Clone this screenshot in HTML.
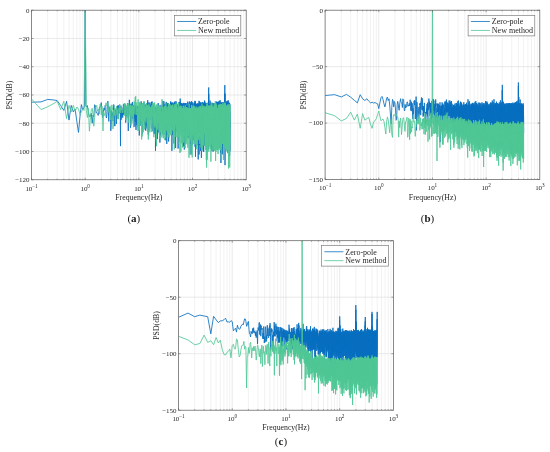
<!DOCTYPE html>
<html lang="en">
<head>
<meta charset="utf-8">
<title>PSD comparison: Zero-pole vs New method</title>
<style>
html,body{margin:0;padding:0;background:#fff;}
body{width:550px;height:452px;overflow:hidden;}
svg{display:block;}
text{font-family:"Liberation Serif", "DejaVu Serif", serif;fill:#262626;}
.tk{font-size:7px;letter-spacing:-0.1px;}
.lb{font-size:7.8px;}
.lg{font-size:8px;}
.cap{font-size:11px;fill:#1a1a1a;}
</style>
</head>
<body>
<svg width="550" height="452" viewBox="0 0 550 452">
<rect width="550" height="452" fill="#ffffff"/>
<clipPath id="c1"><rect x="31.50" y="10.20" width="214.70" height="169.55"/></clipPath>
<path d="M47.66 10.20V179.75M57.11 10.20V179.75M63.82 10.20V179.75M69.02 10.20V179.75M73.27 10.20V179.75M76.86 10.20V179.75M79.97 10.20V179.75M82.72 10.20V179.75M101.33 10.20V179.75M110.78 10.20V179.75M117.49 10.20V179.75M122.69 10.20V179.75M126.94 10.20V179.75M130.54 10.20V179.75M133.65 10.20V179.75M136.39 10.20V179.75M155.01 10.20V179.75M164.46 10.20V179.75M171.17 10.20V179.75M176.37 10.20V179.75M180.62 10.20V179.75M184.21 10.20V179.75M187.32 10.20V179.75M190.07 10.20V179.75M208.68 10.20V179.75M218.13 10.20V179.75M224.84 10.20V179.75M230.04 10.20V179.75M234.29 10.20V179.75M237.89 10.20V179.75M241.00 10.20V179.75M243.74 10.20V179.75" stroke="#e7e7e7" stroke-width="0.55" fill="none"/>
<path d="M85.17 10.20V179.75M138.85 10.20V179.75M192.52 10.20V179.75M31.50 38.46H246.20M31.50 66.72H246.20M31.50 94.98H246.20M31.50 123.23H246.20M31.50 151.49H246.20" stroke="#dcdcdc" stroke-width="0.6" fill="none"/>
<polyline clip-path="url(#c1)" fill="none" stroke="#0a70c0" stroke-width="0.85" stroke-linejoin="round" points="31.5,102.2 41.0,101.9 47.7,99.4 52.9,99.9 57.1,100.5 60.7,105.6 63.8,110.4 66.6,101.3 69.0,120.1 71.2,105.4 73.3,111.9 75.1,109.1 76.9,121.8 78.5,132.4 80.0,116.2 81.4,104.6 82.7,109.8 84.0,107.7 84.5,104.9 85.2,6.0 85.8,104.9 86.3,107.0 87.4,105.6 88.4,112.5 89.4,116.4 90.4,116.3 91.3,113.4 92.2,123.3 93.0,115.2 93.8,116.8 94.6,104.7 95.4,105.8 96.1,112.5 96.8,112.3 97.5,114.3 98.2,115.4 98.9,111.9 99.5,107.2 100.1,107.3 100.7,104.7 101.3,102.6 101.9,110.5 102.5,117.6 103.0,116.0 103.6,109.6 104.1,107.9 104.6,110.3 105.1,105.4 105.6,107.2 106.1,116.9 106.5,118.0 107.0,114.0 107.4,102.9 107.9,101.1 108.3,107.4 108.8,121.4 109.2,107.0 109.6,111.2 110.0,108.5 110.4,113.5 110.8,130.8 111.2,124.9 111.5,110.5 111.9,116.5 112.3,112.6 112.7,114.3 113.0,121.1 113.4,111.9 113.7,104.5 114.0,104.9 114.4,126.1 114.7,115.1 115.0,117.9 115.4,114.8 115.7,109.5 116.0,113.3 116.3,124.0 116.6,115.3 116.9,109.6 117.2,106.0 117.5,105.8 117.8,109.2 118.1,118.9 118.3,105.3 118.6,107.3 118.9,113.5 119.2,111.9 119.4,112.0 119.7,105.0 120.0,108.2 120.2,107.7 120.5,146.1 120.7,106.0 121.0,119.9 121.2,119.6 121.5,117.1 121.7,107.3 122.0,108.9 122.2,116.0 122.5,110.2 122.7,117.7 122.9,113.1 123.2,110.0 123.4,104.5 123.6,114.6 123.8,105.2 124.1,103.9 124.3,106.6 124.5,107.0 124.7,113.9 124.9,108.6 125.1,104.3 125.3,111.2 125.5,112.6 125.7,122.7 126.0,116.7 126.2,115.5 126.4,116.0 126.6,114.2 126.7,106.8 126.9,110.7 127.1,116.3 127.3,104.9 127.5,103.0 127.7,103.6 127.9,107.2 128.1,111.6 128.3,130.9 128.4,114.1 128.6,110.6 128.8,104.8 129.0,105.7 129.2,103.4 129.3,99.8 129.5,102.2 129.7,109.3 129.9,111.3 130.0,109.0 130.2,110.7 130.4,124.8 130.5,127.7 130.7,111.3 130.9,103.8 131.0,111.3 131.2,115.0 131.4,107.4 131.5,111.3 131.7,121.0 131.8,109.5 132.0,103.7 132.1,104.8 132.3,102.0 132.5,102.1 132.6,111.0 132.8,118.4 132.9,116.7 133.1,114.9 133.2,110.7 133.4,123.2 133.5,124.0 133.6,110.1 133.8,105.5 133.9,114.4 134.1,104.8 134.2,117.5 134.4,107.2 134.5,108.1 134.6,117.0 134.8,120.2 134.9,126.7 135.1,113.1 135.2,121.9 135.3,117.7 135.5,119.8 135.6,107.8 135.7,104.6 135.9,105.9 136.0,129.9 136.1,114.9 136.3,113.8 136.4,115.0 136.5,113.3 136.7,124.8 136.8,111.6 136.9,109.3 137.0,107.2 137.2,114.4 137.3,110.4 137.4,106.1 137.5,112.6 137.7,117.6 137.8,124.1 137.9,121.5 138.0,126.0 138.1,110.2 138.3,106.8 138.4,106.5 138.5,109.3 138.6,114.8 138.7,114.6 138.8,106.9 139.0,114.7 139.1,121.8 139.2,127.3 139.3,135.5 139.4,124.6 139.5,116.2 139.7,110.9 139.8,111.6 139.9,118.9 140.0,104.2 140.1,110.0 140.2,121.8 140.3,114.8 140.4,106.3 140.5,125.5 140.6,111.8 140.8,104.3 140.9,110.7 141.0,106.8 141.1,101.3 141.2,101.9 141.3,103.7 141.4,104.9 141.5,105.5 141.6,107.4 141.7,112.9 141.8,112.9 141.9,121.7 142.0,107.7 142.1,123.6 142.2,116.8 142.3,116.0 142.4,124.4 142.5,134.1 142.6,112.7 142.7,108.2 142.8,112.4 142.9,109.7 143.0,118.9 143.1,110.8 143.2,107.1 143.3,117.6 143.4,115.6 143.5,109.1 143.6,108.0 143.7,111.7 143.8,121.4 143.9,105.7 144.0,101.8 144.1,111.4 144.1,110.5 144.2,112.6 144.3,108.4 144.4,106.3 144.5,115.9 144.6,119.5 144.7,125.4 144.8,117.8 144.9,124.4 145.0,119.6 145.1,119.6 145.1,129.6 145.2,116.2 145.5,104.6 145.6,110.7 145.7,130.7 145.8,118.1 145.8,113.5 145.9,118.0 146.0,126.0 146.1,120.1 146.2,110.1 146.4,122.2 146.4,112.3 146.7,103.0 146.8,114.6 146.9,118.3 146.9,114.5 147.0,128.4 147.1,109.3 147.3,119.2 147.4,111.7 147.5,119.8 147.6,103.5 147.7,100.1 147.8,105.7 147.8,113.9 147.9,119.2 148.1,102.3 148.1,124.1 148.2,134.4 148.3,134.5 148.5,106.0 148.5,109.8 148.6,135.7 148.8,112.1 148.8,130.7 149.0,104.6 149.1,111.2 149.1,109.7 149.2,119.3 149.4,113.5 149.4,105.4 149.5,117.4 149.7,102.6 149.7,114.5 149.8,107.2 150.0,109.1 150.0,106.8 150.1,108.8 150.2,104.5 150.2,105.7 150.3,107.2 150.4,119.4 150.6,109.0 150.7,114.9 150.7,115.0 150.9,110.5 150.9,105.6 151.0,115.6 151.2,102.3 151.2,104.5 151.3,128.5 151.5,112.1 151.6,116.7 151.7,102.0 151.8,115.3 151.8,110.2 152.0,101.4 152.1,110.2 152.2,106.2 152.2,124.3 152.4,115.3 152.4,124.5 152.6,114.6 152.7,120.8 152.7,111.5 152.9,106.8 152.9,131.1 153.0,113.1 153.1,123.2 153.2,112.7 153.3,113.5 153.3,112.1 153.6,121.7 153.6,111.3 153.8,133.2 153.9,114.3 153.9,115.3 154.0,131.3 154.1,103.9 154.2,109.1 154.2,120.1 154.3,134.1 154.5,108.2 154.5,108.0 154.8,124.5 154.8,129.0 154.9,113.2 155.1,114.6 155.1,119.4 155.2,132.9 155.3,107.0 155.4,107.0 155.4,115.1 155.5,150.8 155.6,111.6 155.7,119.6 155.8,111.6 155.9,113.6 156.0,109.4 156.0,108.3 156.3,117.1 156.3,108.9 156.5,132.6 156.6,111.8 156.6,109.2 156.7,108.2 156.8,118.1 156.9,113.6 156.9,109.1 157.2,127.6 157.2,110.7 157.4,139.1 157.5,119.3 157.5,121.9 157.6,106.8 157.8,113.0 157.8,110.6 158.0,117.4 158.0,107.4 158.1,109.2 158.1,119.9 158.2,103.1 158.4,111.4 158.4,122.0 158.5,107.3 158.7,115.1 158.7,113.8 158.8,108.8 158.9,132.4 159.0,121.5 159.0,122.4 159.1,106.7 159.3,119.8 159.3,114.7 159.4,134.1 159.6,114.2 159.6,119.1 159.7,113.5 159.9,142.6 159.9,116.1 160.0,109.9 160.2,129.9 160.2,135.3 160.5,113.7 160.5,110.6 160.7,121.0 160.8,113.5 160.8,108.0 160.9,115.7 161.0,104.8 161.1,112.2 161.1,110.8 161.2,119.2 161.4,117.5 161.4,115.2 161.6,129.1 161.7,108.5 161.7,108.5 161.8,119.1 162.0,111.1 162.0,107.3 162.1,129.2 162.3,119.7 162.3,112.0 162.3,133.1 162.6,112.3 162.6,110.0 162.7,120.5 162.8,101.0 162.9,109.3 162.9,115.6 163.0,125.2 163.1,110.4 163.2,113.2 163.2,114.2 163.3,112.0 163.5,126.8 163.5,112.2 163.5,118.1 163.8,109.2 163.8,112.9 163.9,101.3 164.1,122.1 164.1,125.7 164.3,108.1 164.4,118.8 164.4,107.2 164.5,105.8 164.6,119.1 164.7,116.1 164.7,106.8 164.8,104.7 165.0,124.2 165.0,116.7 165.0,115.4 165.1,119.0 165.2,104.1 165.3,108.8 165.3,122.3 165.4,116.2 165.6,140.3 165.6,129.9 165.6,121.4 165.7,137.3 165.9,106.9 165.9,119.9 165.9,109.9 166.0,103.2 166.1,123.8 166.2,108.8 166.2,111.2 166.3,101.9 166.4,130.9 166.5,121.5 166.5,121.4 166.6,110.6 166.8,143.9 166.8,127.0 166.8,120.5 166.9,130.3 166.9,103.5 167.1,112.7 167.1,110.5 167.2,135.0 167.3,108.5 167.4,116.2 167.4,120.5 167.5,107.8 167.7,115.3 167.7,108.9 167.8,103.2 167.9,117.2 168.0,114.8 168.0,131.7 168.2,103.4 168.3,111.3 168.3,107.5 168.5,106.8 168.6,141.5 168.6,114.3 168.7,105.5 168.9,126.8 168.9,118.8 168.9,105.7 169.1,127.8 169.2,117.9 169.2,120.6 169.3,111.6 169.4,131.2 169.5,117.5 169.5,119.6 169.6,131.2 169.7,110.2 169.8,113.0 169.8,112.1 169.9,105.7 170.0,125.5 170.1,112.5 170.1,108.1 170.2,103.9 170.2,118.1 170.4,108.9 170.4,115.1 170.5,121.2 170.7,101.4 170.7,110.7 170.8,122.7 171.0,105.4 171.0,102.2 171.3,121.6 171.3,122.1 171.5,103.4 171.6,108.1 171.6,113.4 171.7,112.9 171.8,135.1 171.9,114.0 171.9,150.9 172.1,103.1 172.2,112.0 172.2,109.6 172.3,130.8 172.5,106.3 172.5,110.5 172.6,119.9 172.7,103.1 172.8,105.0 172.8,102.4 172.9,134.9 173.1,114.3 173.1,117.9 173.2,123.4 173.3,109.6 173.4,122.4 173.4,111.8 173.5,104.9 173.7,118.6 173.7,105.6 173.7,103.8 174.0,135.3 174.0,122.0 174.0,143.5 174.3,104.3 174.3,109.1 174.3,112.1 174.4,101.7 174.5,118.7 174.6,112.9 174.6,126.4 174.6,127.3 174.7,103.5 174.9,121.5 174.9,110.8 175.0,121.1 175.0,106.6 175.2,116.7 175.2,111.3 175.3,119.9 175.4,108.5 175.5,112.7 175.5,113.0 175.6,148.0 175.8,104.9 175.8,110.2 175.9,101.1 176.0,124.0 176.1,107.3 176.1,112.4 176.1,121.2 176.2,108.4 176.4,114.3 176.4,102.6 176.6,122.0 176.7,108.1 176.7,115.0 176.8,131.3 177.0,105.3 177.0,108.9 177.0,130.4 177.1,103.9 177.3,106.1 177.3,106.9 177.4,106.1 177.5,129.2 177.6,112.8 177.6,115.7 177.8,105.7 177.9,128.5 177.9,117.4 178.1,105.4 178.1,148.6 178.2,122.5 178.2,109.7 178.3,131.5 178.5,104.1 178.5,107.6 178.5,111.5 178.6,106.6 178.8,124.1 178.8,110.8 178.8,114.6 178.9,122.8 179.1,102.1 179.1,121.1 179.1,110.5 179.2,102.5 179.3,120.0 179.4,112.0 179.4,135.5 179.4,140.2 179.5,108.6 179.7,115.3 179.7,114.5 179.8,126.8 179.9,107.1 180.0,112.6 180.0,112.7 180.2,122.0 180.2,98.6 180.3,105.1 180.3,101.7 180.6,128.6 180.6,115.7 180.7,103.9 180.8,126.1 180.9,108.7 180.9,115.9 181.1,130.8 181.2,103.5 181.2,130.3 181.2,122.8 181.3,107.4 181.4,130.5 181.5,115.0 181.5,123.0 181.6,103.2 181.8,105.8 181.8,111.5 181.8,124.1 182.0,109.7 182.1,122.7 182.1,132.3 182.4,103.7 182.4,118.8 182.4,122.3 182.6,106.4 182.7,127.2 182.7,110.0 182.7,106.8 182.9,136.9 183.0,109.3 183.0,115.7 183.2,103.2 183.3,146.3 183.3,126.3 183.3,118.9 183.3,109.0 183.4,139.5 183.6,122.9 183.6,112.3 183.7,102.9 183.8,127.3 183.9,116.2 183.9,112.1 184.0,108.0 184.1,127.2 184.2,115.5 184.2,118.8 184.3,149.5 184.4,104.9 184.5,105.6 184.5,108.9 184.6,103.1 184.8,130.3 184.8,119.0 184.8,113.8 184.8,105.8 184.9,122.3 185.1,112.0 185.1,110.9 185.2,139.0 185.3,105.9 185.4,111.4 185.4,124.4 185.4,125.9 185.7,103.2 185.7,113.7 185.7,126.1 185.9,139.0 186.0,106.4 186.0,112.1 186.1,103.0 186.2,135.0 186.3,109.3 186.3,111.6 186.4,106.3 186.6,127.4 186.6,122.6 186.6,110.1 186.7,130.1 186.8,105.5 186.9,124.9 186.9,112.2 187.1,128.1 187.1,106.0 187.2,110.4 187.2,126.0 187.3,128.9 187.5,108.4 187.5,117.8 187.5,115.0 187.7,138.3 187.8,101.6 187.8,103.5 187.8,102.7 187.9,136.2 188.1,115.7 188.1,115.7 188.2,105.3 188.3,137.6 188.4,120.6 188.4,125.0 188.5,132.1 188.7,104.4 188.7,110.4 188.7,134.8 188.7,137.4 189.0,103.4 189.0,132.8 189.0,125.5 189.0,109.7 189.2,134.5 189.3,110.4 189.3,104.7 189.4,139.0 189.5,101.6 189.6,110.4 189.6,119.4 189.6,109.1 189.8,131.3 189.9,113.8 189.9,112.5 190.1,143.7 190.1,101.8 190.2,115.2 190.2,135.7 190.2,138.2 190.3,104.4 190.5,110.9 190.5,108.6 190.5,105.4 190.6,137.6 190.8,111.0 190.8,112.5 190.9,103.2 191.0,154.6 191.1,112.3 191.1,111.5 191.3,102.2 191.3,137.9 191.4,121.5 191.4,109.0 191.6,101.2 191.7,141.1 191.7,114.4 191.7,110.0 191.9,126.0 192.0,102.4 192.0,108.6 192.0,116.3 192.2,104.8 192.3,142.2 192.3,124.1 192.3,117.4 192.4,107.3 192.5,144.6 192.6,111.7 192.6,114.5 192.7,129.5 192.9,102.5 192.9,112.9 192.9,117.4 192.9,139.2 193.0,104.4 193.2,118.7 193.2,108.9 193.3,140.3 193.5,120.0 193.5,114.9 193.6,138.1 193.7,105.9 193.8,113.2 193.8,107.9 193.8,105.7 194.1,139.7 194.1,125.8 194.1,111.1 194.2,103.4 194.2,138.1 194.4,112.1 194.4,120.9 194.6,103.2 194.6,138.1 194.7,131.4 194.7,111.7 194.9,100.8 194.9,140.3 195.0,110.1 195.0,115.2 195.1,146.9 195.2,102.7 195.3,117.1 195.3,107.2 195.4,101.2 195.5,156.7 195.6,111.4 195.6,112.5 195.6,125.7 195.7,104.7 195.9,112.6 195.9,110.4 196.0,107.1 196.2,133.1 196.2,109.3 196.2,113.8 196.3,106.0 196.4,126.6 196.5,113.7 196.5,119.7 196.6,135.7 196.6,104.0 196.8,114.1 196.8,117.8 196.9,125.9 197.1,105.7 197.1,116.1 197.1,121.1 197.1,139.7 197.2,103.1 197.4,107.7 197.4,106.0 197.6,104.2 197.7,137.8 197.7,129.9 197.7,144.5 197.9,107.5 198.0,120.8 198.0,106.0 198.2,159.4 198.2,105.4 198.3,114.5 198.3,108.7 198.3,103.4 198.4,136.8 198.6,114.2 198.6,109.3 198.7,131.4 198.8,105.1 198.9,119.2 198.9,110.5 199.0,100.8 199.1,154.5 199.2,127.7 199.2,119.2 199.3,105.2 199.5,145.0 199.5,116.4 199.5,114.9 199.6,101.7 199.6,133.6 199.8,119.2 199.8,115.3 199.8,132.8 200.0,106.6 200.1,126.1 200.1,123.4 200.2,136.7 200.3,106.3 200.4,112.6 200.4,126.6 200.4,134.1 200.4,103.2 200.7,110.9 200.7,120.6 200.7,151.0 200.8,102.2 201.0,135.4 201.0,119.1 201.2,103.1 201.3,132.3 201.3,104.7 201.3,110.2 201.4,157.9 201.4,105.5 201.6,117.4 201.6,131.4 201.7,102.8 201.9,142.1 201.9,109.0 201.9,106.6 202.0,149.2 202.0,103.7 202.2,110.7 202.2,112.9 202.3,140.1 202.4,102.4 202.5,106.0 202.5,109.1 202.5,134.6 202.8,104.7 202.8,116.7 202.8,124.3 202.9,102.0 202.9,138.6 203.1,126.8 203.1,115.7 203.2,151.3 203.4,103.7 203.4,113.3 203.5,105.5 203.6,134.7 203.7,122.7 203.7,119.0 203.7,151.9 203.8,103.0 204.0,105.3 204.0,113.3 204.0,104.5 204.2,145.5 204.3,108.9 204.3,105.5 204.4,133.0 204.6,100.5 204.6,111.2 204.6,103.1 204.6,101.2 204.7,136.1 204.9,130.6 204.9,120.7 204.9,104.3 205.2,133.9 205.2,118.1 205.2,116.8 205.2,133.6 205.4,102.7 205.5,116.3 205.5,113.7 205.7,134.2 205.7,104.3 205.8,123.5 205.8,128.3 206.1,137.9 206.1,104.1 206.1,108.5 206.1,112.5 206.1,105.3 206.4,159.9 206.4,107.0 206.4,120.5 206.5,103.4 206.6,154.3 206.7,110.9 206.7,118.5 206.8,105.6 206.8,152.2 207.0,124.7 207.0,109.6 207.0,102.9 207.1,135.5 207.3,121.7 207.3,113.7 207.3,104.1 207.4,136.7 207.6,117.7 207.6,119.9 207.8,132.4 207.9,102.8 207.9,114.5 207.9,123.8 208.0,132.7 208.2,103.4 208.2,112.4 208.2,106.2 208.4,149.4 208.5,96.6 208.5,116.8 208.5,96.2 208.7,87.5 208.8,135.2 208.8,121.4 208.8,93.9 209.0,136.3 209.1,120.7 209.1,104.7 209.2,141.3 209.3,104.0 209.4,124.8 209.4,127.5 209.4,106.9 209.5,132.8 209.7,124.5 209.7,126.3 209.8,105.2 209.9,142.2 210.0,107.4 210.0,111.2 210.1,100.6 210.1,135.1 210.3,121.1 210.3,125.2 210.3,134.3 210.6,105.0 210.6,111.6 210.6,108.5 210.7,105.0 210.9,136.0 210.9,123.4 211.0,103.5 211.0,135.3 211.2,122.1 211.2,143.0 211.3,146.5 211.4,103.6 211.5,116.7 211.5,108.9 211.6,105.3 211.8,151.1 211.8,113.4 211.9,102.6 211.9,148.4 212.1,116.4 212.1,105.7 212.2,140.9 212.3,103.1 212.4,120.4 212.4,118.9 212.5,104.3 212.6,140.7 212.7,123.0 212.7,114.9 212.7,103.3 212.7,136.9 213.0,116.6 213.0,114.2 213.1,151.7 213.1,105.3 213.3,110.2 213.3,126.2 213.5,103.3 213.5,146.3 213.6,133.5 213.6,113.1 213.7,105.7 213.7,136.2 213.9,118.7 213.9,114.7 214.0,106.4 214.0,139.2 214.2,121.7 214.2,118.4 214.2,146.5 214.5,104.0 214.5,110.0 214.6,146.2 214.6,105.4 214.8,109.5 214.8,110.8 214.8,146.3 215.0,103.0 215.1,105.3 215.1,109.8 215.3,103.7 215.4,139.7 215.4,124.8 215.4,124.4 215.5,104.1 215.6,143.2 215.7,115.8 215.7,118.1 215.8,137.4 215.9,101.9 216.0,111.7 216.0,113.6 216.2,102.7 216.3,130.9 216.3,122.2 216.3,115.5 216.3,106.5 216.6,142.5 216.6,112.0 216.6,117.3 216.6,134.6 216.8,101.5 216.9,115.6 216.9,116.2 216.9,136.1 217.0,102.5 217.2,117.0 217.2,137.4 217.2,102.0 217.5,119.0 217.5,113.5 217.6,149.8 217.7,102.4 217.8,112.6 217.8,122.0 217.9,137.8 218.0,102.7 218.1,117.7 218.1,115.5 218.3,103.3 218.3,143.3 218.4,114.0 218.4,109.3 218.6,145.9 218.6,101.6 218.7,105.1 218.7,110.7 218.8,104.2 219.0,138.4 219.0,116.5 219.0,105.8 219.0,133.3 219.2,101.3 219.3,124.6 219.3,118.6 219.4,147.7 219.5,104.3 219.6,110.0 219.6,113.7 219.6,101.7 219.7,134.8 219.9,117.2 219.9,119.2 220.1,139.7 220.1,100.1 220.2,122.9 220.2,119.7 220.5,131.1 220.5,104.1 220.5,107.4 220.5,113.2 220.6,152.6 220.6,103.8 220.8,120.7 220.8,121.0 220.9,102.5 220.9,163.0 221.1,117.1 221.1,117.3 221.2,102.6 221.3,153.0 221.4,113.3 221.4,115.3 221.5,154.0 221.5,102.7 221.7,136.0 221.7,119.1 221.7,103.3 221.9,153.5 222.0,140.3 222.0,109.4 222.1,104.5 222.1,138.8 222.3,111.4 222.3,124.5 222.5,105.1 222.6,143.3 222.6,128.6 222.6,127.8 222.8,154.4 222.9,102.1 222.9,107.0 223.0,104.1 223.0,144.6 223.2,117.9 223.2,141.9 223.2,102.3 223.5,115.3 223.5,110.7 223.7,145.9 223.7,104.4 223.8,119.7 223.8,110.5 223.8,141.3 224.0,102.9 224.1,118.0 224.1,127.5 224.3,105.2 224.3,143.4 224.4,113.2 224.4,105.1 224.6,143.2 224.7,93.3 224.7,120.4 224.8,85.1 224.9,131.4 225.0,124.0 225.0,94.1 225.0,165.1 225.3,106.1 225.3,116.0 225.3,104.7 225.6,136.2 225.6,109.2 225.6,109.1 225.7,140.9 225.8,103.8 225.9,122.2 225.9,129.9 225.9,144.9 226.0,106.1 226.2,111.6 226.2,112.1 226.4,101.9 226.5,141.5 226.5,103.6 226.5,113.1 226.7,147.9 226.8,101.4 226.8,132.0 226.8,132.4 226.9,102.0 226.9,147.3 227.1,129.8 227.1,134.7 227.3,150.9 227.3,100.8 227.4,129.1 227.4,116.9 227.6,145.9 227.6,105.2 227.7,122.9 227.7,131.9 227.7,106.1 228.0,153.2 228.0,119.1 228.0,116.4 228.0,135.2 228.3,100.3 228.3,118.8 228.3,117.5 228.4,105.3 228.5,139.4 228.6,113.4 228.6,108.6 228.7,145.2 228.8,102.1 228.9,117.8 228.9,124.7 229.1,105.0 229.1,143.8 229.2,115.1 229.2,105.6 229.2,105.0 229.4,145.2 229.5,138.3 229.5,128.9 229.6,103.2 229.6,156.2 229.8,122.1 229.8,128.4 229.8,104.3 229.9,151.3 230.0,111.8"/>
<polyline clip-path="url(#c1)" fill="none" stroke="#50c896" stroke-width="0.85" stroke-linejoin="round" points="31.5,98.9 41.0,109.5 47.7,106.8 52.9,104.0 57.1,101.3 60.7,109.5 63.8,101.3 66.6,118.6 69.0,105.4 71.2,111.9 73.3,105.4 75.1,111.2 76.9,107.0 78.5,109.1 80.0,114.5 81.4,111.9 82.7,109.1 84.0,110.5 85.2,6.0 86.3,110.5 87.4,117.6 88.4,108.5 89.4,131.2 90.4,117.9 91.3,109.7 92.2,108.2 93.0,114.6 93.8,126.2 94.6,117.8 95.4,108.3 96.1,106.6 96.8,105.3 97.5,111.4 98.2,109.5 98.9,109.1 99.5,113.7 100.1,104.0 100.7,105.0 101.3,114.8 101.9,106.1 102.5,113.0 103.0,131.0 103.6,111.8 104.1,115.7 104.6,114.0 105.1,114.0 105.6,104.9 106.1,102.8 106.5,105.8 107.0,105.8 107.4,104.6 107.9,102.6 108.3,111.5 108.8,107.8 109.2,113.3 109.6,111.7 110.0,105.8 110.4,108.5 110.8,120.1 111.2,116.4 111.5,106.5 111.9,104.8 112.3,106.7 112.7,110.3 113.0,128.9 113.4,112.9 113.7,110.1 114.0,112.9 114.4,115.5 114.7,107.9 115.0,107.8 115.4,126.1 115.7,114.7 116.0,111.6 116.3,108.3 116.6,106.1 116.9,114.6 117.2,109.9 117.5,112.7 117.8,114.5 118.1,115.1 118.3,119.2 118.6,114.7 118.9,108.1 119.2,111.2 119.4,112.0 119.7,104.0 120.0,109.5 120.2,113.0 120.5,107.1 120.7,109.3 121.0,110.3 121.2,105.5 121.5,110.2 121.7,109.8 122.0,109.0 122.2,112.6 122.5,111.0 122.7,112.9 122.9,112.6 123.2,110.0 123.4,108.3 123.6,108.0 123.8,106.9 124.1,104.8 124.3,103.2 124.5,108.7 124.7,115.9 124.9,106.9 125.1,103.4 125.3,108.2 125.5,111.5 125.7,110.3 126.0,120.1 126.2,111.8 126.4,110.2 126.6,107.9 126.7,105.6 126.9,105.8 127.1,111.0 127.3,118.0 127.5,107.0 127.7,103.5 127.9,103.2 128.1,103.9 128.3,106.6 128.4,103.7 128.6,111.8 128.8,122.9 129.0,112.9 129.2,112.7 129.3,108.5 129.5,114.9 129.7,111.0 129.9,105.7 130.0,116.1 130.2,104.6 130.4,105.1 130.5,113.4 130.7,114.7 130.9,107.5 131.0,125.7 131.2,105.9 131.4,109.0 131.5,114.7 131.7,107.9 131.8,123.4 132.0,112.0 132.1,107.5 132.3,106.0 132.5,116.8 132.6,105.7 132.8,105.9 132.9,105.4 133.1,107.6 133.2,108.2 133.4,110.9 133.5,127.2 133.6,106.7 133.8,109.3 133.9,107.6 134.1,106.8 134.2,101.5 134.4,103.0 134.5,104.2 134.6,110.9 134.8,114.1 134.9,114.5 135.1,103.9 135.2,97.1 135.3,102.3 135.5,105.9 135.6,98.6 135.7,96.2 135.9,106.8 136.0,106.5 136.1,111.9 136.3,115.0 136.4,112.8 136.5,108.6 136.7,104.6 136.8,102.5 136.9,104.4 137.0,107.5 137.2,107.4 137.3,112.0 137.4,108.4 137.5,114.4 137.7,127.2 137.8,114.5 137.9,130.9 138.0,104.3 138.1,99.4 138.3,106.1 138.4,106.2 138.5,117.1 138.6,130.4 138.7,118.9 138.8,108.6 139.0,104.7 139.1,101.9 139.2,116.3 139.3,130.3 139.4,108.3 139.5,104.6 139.7,103.0 139.8,108.1 139.9,104.4 140.0,113.4 140.1,125.6 140.2,112.5 140.3,105.2 140.4,106.6 140.5,102.8 140.6,112.0 140.8,121.3 140.9,105.8 141.0,112.7 141.1,113.9 141.2,106.1 141.3,105.7 141.4,104.3 141.5,112.1 141.6,139.5 141.7,116.0 141.8,106.8 141.9,104.4 142.0,111.3 142.1,127.2 142.2,136.5 142.3,122.9 142.4,103.0 142.5,108.7 142.6,122.7 142.7,109.6 142.8,104.6 142.9,110.0 143.0,113.4 143.1,111.7 143.3,132.3 143.4,106.9 143.5,108.6 143.6,118.9 143.7,111.4 143.8,106.0 143.9,105.1 144.0,101.1 144.1,103.3 144.1,111.8 144.2,108.3 144.3,106.7 144.4,120.6 144.5,121.0 144.6,112.3 144.7,109.7 144.8,128.8 144.9,115.3 145.0,116.9 145.1,107.1 145.1,106.5 145.2,120.0 145.5,111.8 145.6,105.7 145.7,110.1 145.8,106.0 145.8,114.1 145.9,114.6 146.0,122.4 146.1,115.8 146.3,103.1 146.4,105.0 146.4,110.9 146.6,117.8 146.7,117.3 146.8,110.8 146.9,106.9 146.9,108.7 147.0,107.7 147.1,104.8 147.3,113.9 147.4,131.4 147.6,111.0 147.7,105.7 147.8,108.0 147.8,110.6 147.9,108.7 148.0,125.0 148.1,112.1 148.2,116.2 148.3,139.5 148.5,108.0 148.5,105.6 148.8,117.9 148.8,105.6 148.9,111.8 149.0,104.1 149.1,106.1 149.1,120.1 149.2,111.5 149.4,116.4 149.4,106.5 149.5,112.9 149.7,109.2 149.7,125.7 149.8,111.6 149.9,132.2 150.0,124.5 150.0,113.5 150.2,110.0 150.2,111.5 150.3,118.3 150.6,107.4 150.7,112.9 150.8,113.7 150.9,108.6 150.9,112.1 151.0,106.9 151.2,125.1 151.2,116.9 151.4,105.4 151.5,114.2 151.6,114.5 151.7,109.2 151.8,132.0 151.8,117.0 151.9,112.7 152.1,124.7 152.2,113.0 152.3,114.0 152.4,105.0 152.4,103.0 152.7,111.3 152.7,111.1 152.8,117.2 152.9,112.6 153.0,113.9 153.1,116.6 153.3,103.6 153.3,103.0 153.6,115.9 153.6,121.6 153.8,114.7 153.8,137.2 153.9,118.3 153.9,113.1 154.1,104.8 154.2,123.9 154.2,113.1 154.4,126.1 154.5,111.7 154.5,109.2 154.6,102.4 154.7,112.8 154.8,106.6 154.8,104.6 154.9,127.5 155.1,105.7 155.1,107.7 155.4,126.3 155.4,121.3 155.7,111.6 155.8,112.0 155.8,123.1 156.0,111.8 156.0,117.1 156.1,112.7 156.3,141.7 156.3,122.2 156.5,146.2 156.6,118.3 156.6,115.0 156.7,104.7 156.9,111.5 156.9,106.9 157.1,128.5 157.2,108.1 157.2,103.9 157.5,110.4 157.5,122.9 157.6,110.3 157.8,113.3 157.8,126.2 158.0,130.0 158.1,114.8 158.1,110.4 158.2,118.0 158.4,108.9 158.4,114.7 158.6,108.1 158.7,122.7 158.7,113.5 158.8,105.3 159.0,120.2 159.0,110.9 159.1,106.2 159.2,127.6 159.3,113.7 159.3,111.1 159.4,135.4 159.5,105.1 159.6,114.9 159.6,127.5 159.8,112.2 159.9,139.0 159.9,129.8 160.1,109.8 160.2,116.4 160.2,117.9 160.3,107.8 160.4,129.9 160.5,125.7 160.5,132.2 160.6,114.9 160.8,115.1 160.8,114.4 160.9,118.8 160.9,106.9 161.1,118.7 161.1,114.1 161.2,130.3 161.4,126.1 161.4,118.9 161.5,112.7 161.5,127.7 161.7,118.8 161.7,128.3 161.9,137.6 162.0,103.1 162.0,99.2 162.3,118.3 162.3,114.7 162.4,109.8 162.5,124.5 162.6,118.2 162.6,112.6 162.7,107.0 162.9,135.4 162.9,116.0 162.9,119.5 163.0,133.8 163.1,115.4 163.2,118.1 163.2,112.1 163.4,138.3 163.5,116.6 163.5,119.3 163.6,120.7 163.8,107.4 163.8,111.9 163.9,132.2 164.1,114.9 164.1,132.1 164.2,111.1 164.4,115.0 164.4,116.7 164.5,135.0 164.6,105.9 164.7,113.4 164.7,121.0 164.8,112.4 164.8,139.9 165.0,128.2 165.0,116.5 165.1,121.6 165.2,110.3 165.3,112.6 165.3,128.7 165.4,105.5 165.6,113.8 165.6,110.8 165.7,137.6 165.9,102.8 165.9,106.9 165.9,108.3 166.1,107.8 166.2,118.0 166.2,112.2 166.3,130.4 166.4,109.1 166.5,110.6 166.5,127.5 166.5,127.8 166.8,107.6 166.8,114.4 166.9,106.7 167.1,127.6 167.1,127.9 167.2,131.5 167.3,110.1 167.4,125.9 167.4,122.4 167.5,133.3 167.7,113.8 167.7,118.3 167.8,111.3 167.9,137.1 168.0,122.4 168.0,111.2 168.1,124.3 168.2,105.9 168.3,115.8 168.3,126.5 168.4,111.7 168.4,134.5 168.6,116.5 168.6,105.2 168.6,103.6 168.8,125.5 168.9,112.1 168.9,113.1 169.0,107.7 169.1,137.6 169.2,113.3 169.2,118.6 169.3,123.7 169.4,106.0 169.5,119.5 169.5,127.5 169.6,110.0 169.8,133.0 169.8,115.2 169.9,105.9 170.1,121.2 170.1,114.2 170.3,104.4 170.4,135.2 170.4,123.9 170.5,111.4 170.6,126.2 170.7,114.4 170.7,116.1 170.9,122.4 171.0,110.4 171.0,114.1 171.0,124.1 171.2,111.8 171.3,127.6 171.3,115.8 171.4,134.8 171.5,105.3 171.6,133.5 171.6,131.5 171.8,109.1 171.9,122.0 171.9,122.3 172.0,130.3 172.2,109.7 172.2,120.7 172.4,122.7 172.5,106.6 172.5,104.6 172.6,122.6 172.8,106.8 172.8,112.8 172.9,130.4 173.0,105.4 173.1,109.4 173.1,111.7 173.3,130.9 173.4,107.8 173.4,114.9 173.4,140.2 173.7,110.4 173.7,117.7 173.8,127.1 173.9,113.0 174.0,116.6 174.0,115.5 174.1,108.6 174.3,149.4 174.3,127.2 174.3,109.1 174.3,104.1 174.5,127.2 174.6,105.1 174.6,108.9 174.9,136.7 174.9,123.9 175.0,112.6 175.0,124.8 175.2,115.5 175.2,121.2 175.3,124.9 175.3,104.2 175.5,124.8 175.5,106.7 175.5,105.5 175.8,119.2 175.8,112.6 175.8,104.2 175.8,103.8 176.1,128.2 176.1,117.0 176.1,107.6 176.2,137.3 176.4,114.1 176.4,109.7 176.6,129.0 176.7,103.3 176.7,114.0 176.7,122.5 176.8,124.8 176.9,106.8 177.0,109.5 177.0,108.4 177.2,132.2 177.3,128.2 177.3,130.4 177.3,132.3 177.6,109.7 177.6,116.6 177.6,121.0 177.7,112.1 177.8,144.0 177.9,119.3 177.9,121.2 177.9,136.2 178.2,107.6 178.2,108.3 178.3,103.4 178.4,136.7 178.5,107.0 178.5,116.0 178.6,130.4 178.7,102.8 178.8,112.8 178.8,125.1 178.8,137.4 179.0,107.8 179.1,111.3 179.1,115.1 179.2,131.1 179.3,108.9 179.4,111.9 179.4,121.3 179.4,142.1 179.7,106.8 179.7,112.0 179.9,152.9 180.0,106.4 180.0,114.2 180.0,124.4 180.1,106.8 180.1,131.8 180.3,123.1 180.3,113.9 180.4,110.5 180.6,123.9 180.6,113.1 180.6,112.1 180.7,105.6 180.8,135.6 180.9,111.6 180.9,113.5 180.9,151.6 181.0,108.1 181.2,133.4 181.2,122.8 181.3,108.5 181.4,127.3 181.5,114.2 181.5,116.8 181.7,143.3 181.8,111.9 181.8,113.4 181.8,113.0 181.9,106.0 182.0,124.0 182.1,121.2 182.1,125.6 182.1,138.8 182.4,108.2 182.4,131.6 182.4,131.9 182.5,110.6 182.5,147.6 182.7,111.8 182.7,110.7 182.7,108.2 183.0,126.1 183.0,114.2 183.0,122.7 183.2,109.2 183.3,136.7 183.3,122.2 183.3,118.3 183.3,142.4 183.5,109.1 183.6,115.2 183.6,116.7 183.7,105.7 183.8,142.4 183.9,110.1 183.9,123.9 184.0,140.6 184.1,109.3 184.2,114.0 184.2,107.1 184.3,130.8 184.5,112.9 184.5,114.7 184.6,111.2 184.7,135.7 184.8,115.8 184.8,120.9 185.0,110.0 185.1,122.3 185.1,148.1 185.3,105.4 185.4,131.7 185.4,118.8 185.5,143.7 185.6,113.1 185.7,123.6 185.7,130.4 185.9,109.8 185.9,133.1 186.0,109.8 186.0,109.4 186.1,107.0 186.2,133.8 186.3,109.2 186.3,119.4 186.4,141.2 186.5,109.5 186.6,127.1 186.6,111.6 186.8,144.3 186.9,107.1 186.9,114.3 186.9,115.6 187.0,126.4 187.0,108.0 187.2,118.0 187.2,118.2 187.5,128.6 187.5,110.3 187.5,123.6 187.5,117.6 187.5,127.8 187.8,108.8 187.8,114.1 187.8,147.7 188.1,108.2 188.1,111.2 188.1,126.9 188.1,136.1 188.3,109.0 188.4,114.7 188.4,118.4 188.6,135.8 188.7,108.6 188.7,120.2 188.7,131.3 188.9,112.4 189.0,118.3 189.0,157.7 189.1,103.8 189.3,120.6 189.3,116.6 189.3,108.6 189.5,125.6 189.6,122.7 189.6,118.3 189.6,108.8 189.9,154.3 189.9,113.0 189.9,110.7 190.0,110.6 190.1,132.2 190.2,114.4 190.2,112.5 190.2,108.0 190.4,129.6 190.5,123.0 190.5,117.8 190.5,108.4 190.7,139.3 190.8,114.2 190.8,122.2 190.9,136.1 191.0,108.2 191.1,124.4 191.1,116.9 191.2,142.0 191.3,109.4 191.4,115.3 191.4,119.7 191.5,105.4 191.5,129.5 191.7,114.3 191.7,119.9 191.7,143.6 191.8,104.9 192.0,116.0 192.0,129.0 192.1,111.7 192.2,157.4 192.3,136.7 192.3,123.0 192.5,106.8 192.6,134.4 192.6,122.2 192.6,135.3 192.8,108.7 192.9,115.4 192.9,123.6 193.0,135.1 193.0,109.5 193.2,123.6 193.2,116.3 193.2,126.9 193.4,107.3 193.5,116.6 193.5,117.6 193.6,105.4 193.7,131.2 193.8,117.8 193.8,122.7 193.8,144.2 193.9,109.1 194.1,114.9 194.1,109.9 194.2,137.8 194.3,106.1 194.4,121.8 194.4,117.8 194.5,140.0 194.7,108.2 194.7,108.4 194.7,112.2 194.7,139.4 194.8,108.5 195.0,130.5 195.0,123.9 195.1,142.6 195.2,110.0 195.3,128.9 195.3,110.3 195.3,107.7 195.5,144.5 195.6,114.9 195.6,110.5 195.8,109.2 195.9,137.6 195.9,120.2 195.9,118.2 196.0,135.0 196.1,106.5 196.2,116.9 196.2,119.4 196.3,108.4 196.4,149.2 196.5,125.8 196.5,118.3 196.5,144.4 196.5,109.3 196.8,133.3 196.8,115.5 196.9,145.9 197.0,109.1 197.1,112.5 197.1,114.1 197.3,108.2 197.4,144.1 197.4,119.5 197.4,119.2 197.5,111.7 197.5,138.1 197.7,116.1 197.7,111.2 197.8,108.7 198.0,139.8 198.0,117.3 198.1,106.6 198.2,138.3 198.3,122.2 198.3,125.7 198.4,107.7 198.5,138.0 198.6,130.1 198.6,124.0 198.8,140.1 198.8,109.9 198.9,117.2 198.9,118.5 199.0,131.0 199.2,109.2 199.2,128.5 199.2,113.3 199.5,131.5 199.5,107.7 199.5,118.6 199.5,116.9 199.6,136.4 199.8,108.2 199.8,109.4 199.8,143.9 199.9,105.9 200.1,110.3 200.1,123.9 200.3,109.4 200.4,131.4 200.4,117.6 200.4,135.4 200.5,105.9 200.5,138.6 200.7,112.2 200.7,121.4 200.8,131.9 201.0,108.7 201.0,129.7 201.0,123.5 201.0,147.5 201.0,111.3 201.3,117.0 201.3,131.9 201.4,137.2 201.5,110.4 201.6,113.3 201.6,113.1 201.6,150.9 201.8,107.8 201.9,130.5 201.9,131.5 201.9,144.4 202.0,103.5 202.2,125.1 202.2,115.9 202.3,106.8 202.4,149.4 202.5,112.6 202.5,108.3 202.5,129.8 202.8,106.1 202.8,110.0 202.9,108.7 203.0,140.5 203.1,114.5 203.1,127.3 203.2,105.7 203.4,145.4 203.4,117.9 203.4,119.2 203.5,108.9 203.6,136.3 203.7,134.8 203.7,118.1 203.8,110.5 203.9,135.0 204.0,112.6 204.0,116.1 204.1,106.9 204.3,132.7 204.3,119.9 204.3,121.3 204.4,132.8 204.5,108.7 204.6,114.8 204.6,110.9 204.7,105.9 204.8,133.2 204.9,119.3 204.9,121.9 205.0,146.0 205.0,106.9 205.2,118.3 205.2,117.9 205.4,107.9 205.5,149.6 205.5,124.3 205.5,121.8 205.5,140.7 205.8,109.4 205.8,116.0 205.8,128.3 205.8,136.2 205.8,107.0 206.1,108.5 206.1,106.0 206.1,105.9 206.4,138.8 206.4,113.8 206.4,110.8 206.5,109.7 206.6,167.5 206.7,113.9 206.7,137.7 206.8,141.5 206.9,104.1 207.0,126.4 207.0,122.1 207.1,103.2 207.3,159.7 207.3,117.8 207.3,114.3 207.3,146.8 207.6,109.2 207.6,110.8 207.6,111.7 207.6,109.1 207.9,147.6 207.9,115.8 207.9,111.9 208.0,138.7 208.2,106.7 208.2,118.6 208.2,121.0 208.4,105.6 208.4,136.0 208.5,127.5 208.5,127.7 208.6,110.0 208.8,151.7 208.8,133.6 208.8,107.3 209.0,145.7 209.1,117.0 209.1,114.8 209.1,105.9 209.4,140.3 209.4,110.6 209.4,116.3 209.5,146.8 209.6,110.0 209.7,115.4 209.7,116.5 209.9,146.6 210.0,105.0 210.0,119.3 210.0,118.6 210.1,108.0 210.2,148.9 210.3,125.3 210.3,134.4 210.5,134.8 210.5,105.8 210.6,115.9 210.6,121.4 210.7,108.7 210.9,161.7 210.9,109.9 210.9,110.0 211.0,106.9 211.1,143.9 211.2,107.9 211.2,103.7 211.4,133.3 211.5,112.7 211.5,114.3 211.6,144.5 211.8,109.6 211.8,115.9 211.8,111.6 211.9,140.9 211.9,103.0 212.1,114.7 212.1,110.5 212.1,105.8 212.2,150.8 212.4,118.8 212.4,125.6 212.5,146.8 212.6,107.6 212.7,123.1 212.7,114.9 212.9,106.4 212.9,143.0 213.0,121.8 213.0,117.9 213.1,143.2 213.1,109.2 213.3,124.3 213.3,115.7 213.4,107.0 213.4,141.0 213.6,118.6 213.6,131.4 213.6,108.8 213.8,148.4 213.9,118.1 213.9,124.5 213.9,149.8 214.1,105.5 214.2,114.2 214.2,124.3 214.3,103.4 214.5,146.0 214.5,112.9 214.5,121.2 214.6,150.9 214.6,106.5 214.8,141.4 214.8,118.3 214.9,141.0 215.0,106.1 215.1,139.2 215.1,121.7 215.2,148.2 215.3,101.0 215.4,115.7 215.4,127.3 215.6,106.8 215.6,160.9 215.7,119.5 215.7,116.9 215.9,103.2 216.0,151.8 216.0,123.2 216.0,132.5 216.1,107.8 216.2,149.6 216.3,114.8 216.3,115.0 216.4,107.2 216.6,138.7 216.6,124.0 216.6,131.0 216.7,104.6 216.8,148.8 216.9,132.9 216.9,140.7 217.0,149.6 217.0,108.0 217.2,130.4 217.2,108.3 217.2,108.0 217.4,146.8 217.5,119.4 217.5,118.9 217.6,109.1 217.7,139.1 217.8,129.4 217.8,137.0 218.0,107.7 218.0,154.0 218.1,121.6 218.1,135.7 218.3,136.2 218.4,104.8 218.4,113.9 218.4,112.5 218.5,107.6 218.6,136.6 218.7,114.5 218.7,120.5 218.7,148.8 218.9,104.9 219.0,126.1 219.0,120.1 219.1,150.1 219.3,105.1 219.3,112.2 219.3,110.2 219.5,106.5 219.5,139.2 219.6,117.8 219.6,114.4 219.8,145.7 219.8,106.9 219.9,136.3 219.9,127.8 219.9,103.8 220.1,146.7 220.2,118.3 220.2,120.8 220.3,108.2 220.5,137.6 220.5,132.0 220.5,117.5 220.6,150.1 220.7,104.1 220.8,137.6 220.8,118.7 220.9,143.1 221.0,107.0 221.1,118.4 221.1,112.2 221.3,159.4 221.4,104.1 221.4,114.5 221.4,113.6 221.4,108.9 221.5,147.0 221.7,117.7 221.7,120.1 221.7,108.1 221.8,144.0 222.0,111.0 222.0,113.8 222.0,143.2 222.2,106.3 222.3,111.3 222.3,117.6 222.4,106.2 222.5,143.6 222.6,116.4 222.6,140.8 222.7,105.4 222.9,142.8 222.9,118.5 222.9,127.2 222.9,103.1 223.1,144.0 223.2,137.1 223.2,118.6 223.4,108.0 223.4,160.0 223.5,114.4 223.5,113.7 223.5,109.3 223.7,147.9 223.8,111.7 223.8,111.8 223.9,103.6 224.0,137.4 224.1,115.5 224.1,116.3 224.1,145.3 224.2,106.7 224.4,113.8 224.4,113.2 224.5,141.5 224.6,102.7 224.7,115.0 224.7,123.3 224.9,106.2 225.0,146.2 225.0,122.6 225.0,136.5 225.0,146.9 225.2,107.3 225.3,115.4 225.3,115.3 225.4,103.3 225.4,149.0 225.6,123.7 225.6,117.8 225.8,108.4 225.8,143.5 225.9,120.9 225.9,124.6 225.9,149.5 226.1,105.1 226.2,128.8 226.2,125.3 226.4,105.9 226.4,147.5 226.5,114.5 226.5,116.7 226.7,107.6 226.7,143.5 226.8,129.0 226.8,127.7 226.9,151.4 227.0,109.0 227.1,120.6 227.1,114.4 227.2,150.3 227.3,106.6 227.4,117.1 227.4,123.7 227.4,149.5 227.7,105.1 227.7,130.3 227.7,114.2 228.0,145.7 228.0,104.3 228.0,112.0 228.0,106.4 228.1,145.8 228.2,106.3 228.3,125.5 228.3,131.3 228.3,106.9 228.5,168.5 228.6,126.7 228.6,119.0 228.6,142.8 228.7,107.8 228.9,112.7 228.9,117.7 229.0,106.3 229.1,150.4 229.2,118.8 229.2,125.1 229.2,104.2 229.5,140.6 229.5,118.4 229.5,113.9 229.7,106.5 229.7,167.5 229.8,114.9 229.8,120.7 229.9,144.3 230.0,105.2 230.0,116.8"/>
<path d="M31.50 179.75v-2.00M31.50 10.20v2.00M47.66 179.75v-1.00M47.66 10.20v1.00M57.11 179.75v-1.00M57.11 10.20v1.00M63.82 179.75v-1.00M63.82 10.20v1.00M69.02 179.75v-1.00M69.02 10.20v1.00M73.27 179.75v-1.00M73.27 10.20v1.00M76.86 179.75v-1.00M76.86 10.20v1.00M79.97 179.75v-1.00M79.97 10.20v1.00M82.72 179.75v-1.00M82.72 10.20v1.00M85.17 179.75v-2.00M85.17 10.20v2.00M101.33 179.75v-1.00M101.33 10.20v1.00M110.78 179.75v-1.00M110.78 10.20v1.00M117.49 179.75v-1.00M117.49 10.20v1.00M122.69 179.75v-1.00M122.69 10.20v1.00M126.94 179.75v-1.00M126.94 10.20v1.00M130.54 179.75v-1.00M130.54 10.20v1.00M133.65 179.75v-1.00M133.65 10.20v1.00M136.39 179.75v-1.00M136.39 10.20v1.00M138.85 179.75v-2.00M138.85 10.20v2.00M155.01 179.75v-1.00M155.01 10.20v1.00M164.46 179.75v-1.00M164.46 10.20v1.00M171.17 179.75v-1.00M171.17 10.20v1.00M176.37 179.75v-1.00M176.37 10.20v1.00M180.62 179.75v-1.00M180.62 10.20v1.00M184.21 179.75v-1.00M184.21 10.20v1.00M187.32 179.75v-1.00M187.32 10.20v1.00M190.07 179.75v-1.00M190.07 10.20v1.00M192.52 179.75v-2.00M192.52 10.20v2.00M208.68 179.75v-1.00M208.68 10.20v1.00M218.13 179.75v-1.00M218.13 10.20v1.00M224.84 179.75v-1.00M224.84 10.20v1.00M230.04 179.75v-1.00M230.04 10.20v1.00M234.29 179.75v-1.00M234.29 10.20v1.00M237.89 179.75v-1.00M237.89 10.20v1.00M241.00 179.75v-1.00M241.00 10.20v1.00M243.74 179.75v-1.00M243.74 10.20v1.00M31.50 10.20h2M246.20 10.20h-2M31.50 38.46h2M246.20 38.46h-2M31.50 66.72h2M246.20 66.72h-2M31.50 94.98h2M246.20 94.98h-2M31.50 123.23h2M246.20 123.23h-2M31.50 151.49h2M246.20 151.49h-2M31.50 179.75h2M246.20 179.75h-2" stroke="#626262" stroke-width="0.6" fill="none"/>
<rect x="31.50" y="10.20" width="214.70" height="169.55" fill="none" stroke="#626262" stroke-width="0.75"/>
<text x="29.30" y="12.60" text-anchor="end" class="tk">0</text>
<text x="29.30" y="40.86" text-anchor="end" class="tk">−20</text>
<text x="29.30" y="69.12" text-anchor="end" class="tk">−40</text>
<text x="29.30" y="97.38" text-anchor="end" class="tk">−60</text>
<text x="29.30" y="125.63" text-anchor="end" class="tk">−80</text>
<text x="29.30" y="153.89" text-anchor="end" class="tk">−100</text>
<text x="29.30" y="182.15" text-anchor="end" class="tk">−120</text>
<text x="31.50" y="190.50" text-anchor="middle" class="tk">10<tspan dy="-2.9" font-size="5.2">−1</tspan></text>
<text x="85.17" y="190.50" text-anchor="middle" class="tk">10<tspan dy="-2.9" font-size="5.2">0</tspan></text>
<text x="138.85" y="190.50" text-anchor="middle" class="tk">10<tspan dy="-2.9" font-size="5.2">1</tspan></text>
<text x="192.52" y="190.50" text-anchor="middle" class="tk">10<tspan dy="-2.9" font-size="5.2">2</tspan></text>
<text x="246.20" y="190.50" text-anchor="middle" class="tk">10<tspan dy="-2.9" font-size="5.2">3</tspan></text>
<text x="138.85" y="199.50" text-anchor="middle" class="lb">Frequency(Hz)</text>
<text transform="translate(12.20 94.97) rotate(-90)" text-anchor="middle" class="lb">PSD(dB)</text>
<text x="133.85" y="221.80" text-anchor="middle" class="cap">(<tspan font-weight="bold">a</tspan>)</text>
<rect x="174.40" y="15.30" width="66.40" height="20.60" fill="#fff" stroke="#6a6a6a" stroke-width="0.6"/>
<path d="M177.20 21.48h19" stroke="#0a70c0" stroke-width="0.8"/>
<path d="M177.20 30.44h19" stroke="#50c896" stroke-width="0.8"/>
<text x="198.10" y="24.28" class="lg">Zero-pole</text>
<text x="198.10" y="33.24" class="lg">New method</text>
<clipPath id="c2"><rect x="325.10" y="10.20" width="214.70" height="169.30"/></clipPath>
<path d="M341.26 10.20V179.50M350.71 10.20V179.50M357.42 10.20V179.50M362.62 10.20V179.50M366.87 10.20V179.50M370.46 10.20V179.50M373.57 10.20V179.50M376.32 10.20V179.50M394.93 10.20V179.50M404.38 10.20V179.50M411.09 10.20V179.50M416.29 10.20V179.50M420.54 10.20V179.50M424.14 10.20V179.50M427.25 10.20V179.50M429.99 10.20V179.50M448.61 10.20V179.50M458.06 10.20V179.50M464.77 10.20V179.50M469.97 10.20V179.50M474.22 10.20V179.50M477.81 10.20V179.50M480.92 10.20V179.50M483.67 10.20V179.50M502.28 10.20V179.50M511.73 10.20V179.50M518.44 10.20V179.50M523.64 10.20V179.50M527.89 10.20V179.50M531.49 10.20V179.50M534.60 10.20V179.50M537.34 10.20V179.50" stroke="#e7e7e7" stroke-width="0.55" fill="none"/>
<path d="M378.77 10.20V179.50M432.45 10.20V179.50M486.12 10.20V179.50M325.10 66.63H539.80M325.10 123.07H539.80" stroke="#dcdcdc" stroke-width="0.6" fill="none"/>
<polyline clip-path="url(#c2)" fill="none" stroke="#0a70c0" stroke-width="0.85" stroke-linejoin="round" points="325.1,95.5 334.6,94.7 341.3,96.9 346.5,94.4 350.7,97.2 354.3,100.3 357.4,102.9 360.2,94.7 362.6,98.8 364.8,100.5 366.9,98.8 368.7,101.1 370.5,102.9 372.1,102.2 373.6,103.1 375.0,102.5 376.3,103.3 377.6,103.8 378.8,108.6 379.9,102.8 381.0,97.7 382.0,96.4 383.0,99.4 384.0,103.9 384.9,106.9 385.8,102.8 386.6,98.2 387.4,97.1 388.2,100.5 389.0,98.8 389.7,105.0 390.4,114.0 391.1,124.2 391.8,107.3 392.5,99.4 393.1,100.9 393.7,106.9 394.3,101.4 394.9,102.7 395.5,109.0 396.1,120.3 396.6,119.6 397.2,104.6 397.7,101.4 398.2,103.8 398.7,108.6 399.2,110.3 399.7,103.9 400.1,101.3 400.6,98.7 401.0,102.0 401.5,102.8 401.9,103.9 402.4,107.5 402.8,98.8 403.2,99.4 403.6,99.7 404.0,106.9 404.4,110.9 404.8,110.4 405.1,104.4 405.5,108.0 405.9,106.9 406.3,107.1 406.6,106.0 407.0,102.2 407.3,101.8 407.6,103.5 408.0,106.4 408.3,105.2 408.6,106.0 409.0,105.6 409.3,103.4 409.6,105.7 409.9,104.0 410.2,99.7 410.5,105.3 410.8,110.6 411.1,107.0 411.4,101.7 411.7,111.1 411.9,111.0 412.2,103.2 412.5,108.9 412.8,118.9 413.0,108.4 413.3,114.8 413.6,113.3 413.8,104.8 414.1,100.8 414.3,102.8 414.6,105.1 414.8,100.2 415.1,105.3 415.3,119.0 415.6,109.3 415.8,103.9 416.1,96.6 416.3,100.7 416.5,130.3 416.8,105.1 417.0,102.2 417.2,105.2 417.4,109.0 417.7,115.1 417.9,119.1 418.1,118.3 418.3,116.3 418.5,111.0 418.7,110.2 418.9,107.0 419.1,114.6 419.3,115.9 419.6,105.6 419.8,103.4 420.0,105.0 420.2,104.4 420.3,104.0 420.5,102.9 420.7,115.1 420.9,102.9 421.1,100.7 421.3,100.5 421.5,97.5 421.7,101.4 421.9,109.8 422.0,104.3 422.2,98.3 422.4,99.3 422.6,107.5 422.8,110.4 422.9,106.2 423.1,116.7 423.3,112.9 423.5,115.4 423.6,106.4 423.8,108.6 424.0,112.9 424.1,108.5 424.3,102.9 424.5,104.3 424.6,112.0 424.8,112.6 425.0,112.6 425.1,115.9 425.3,123.8 425.4,112.1 425.6,116.5 425.7,114.2 425.9,113.4 426.1,113.1 426.2,114.2 426.4,113.2 426.5,108.8 426.7,110.1 426.8,112.8 427.0,104.2 427.1,111.0 427.2,122.4 427.4,104.4 427.5,102.7 427.7,107.5 427.8,120.9 428.0,114.3 428.1,104.3 428.2,107.7 428.4,107.9 428.5,109.4 428.7,110.1 428.8,98.9 428.9,98.6 429.1,102.0 429.2,104.5 429.3,101.7 429.5,106.4 429.6,107.6 429.7,104.8 429.9,110.5 430.0,116.0 430.1,112.8 430.3,102.9 430.4,105.3 430.5,114.2 430.6,103.3 430.8,106.7 430.9,103.3 431.0,107.8 431.1,119.3 431.3,112.1 431.4,119.6 431.5,121.5 431.6,122.9 431.7,107.8 431.9,100.9 432.0,104.2 432.1,113.1 432.2,110.8 432.3,108.3 432.4,117.7 432.6,107.1 432.7,108.5 432.8,102.6 432.9,98.9 433.0,100.8 433.1,114.5 433.3,102.0 433.4,99.2 433.5,105.6 433.6,110.6 433.7,107.2 433.8,105.7 433.9,101.2 434.0,100.6 434.1,105.2 434.2,115.8 434.4,115.9 434.5,114.3 434.6,106.5 434.7,110.3 434.8,108.6 434.9,104.1 435.0,106.7 435.1,108.4 435.2,123.6 435.3,104.1 435.4,104.3 435.5,107.0 435.6,102.0 435.7,99.4 435.8,105.7 435.9,106.2 436.0,104.3 436.1,103.3 436.2,104.8 436.3,116.1 436.4,116.9 436.5,112.1 436.6,121.9 436.8,116.0 436.9,114.4 437.0,107.6 437.1,112.0 437.2,129.0 437.3,111.2 437.4,113.3 437.5,103.6 437.6,105.5 437.7,106.6 437.7,104.4 437.8,108.0 437.9,121.8 438.0,117.7 438.1,110.3 438.3,114.9 438.4,103.7 438.5,105.3 438.6,116.4 438.7,108.0 438.7,107.2 438.8,111.6 438.9,109.5 439.2,117.7 439.3,115.0 439.4,119.5 439.4,111.8 439.5,110.6 439.6,105.2 439.8,107.6 439.9,103.7 440.0,102.3 440.0,109.0 440.1,142.1 440.2,105.9 440.4,110.5 440.5,108.8 440.5,108.8 440.6,122.0 440.7,115.0 440.8,110.0 441.0,113.4 441.0,124.1 441.2,111.3 441.3,114.5 441.4,114.4 441.5,105.6 441.6,112.1 441.7,109.2 441.7,123.2 441.8,106.4 441.9,106.8 442.0,112.4 442.1,102.4 442.2,118.1 442.4,105.8 442.5,104.5 442.7,120.4 442.7,111.7 442.8,107.9 442.9,103.6 443.0,109.2 443.1,110.3 443.2,106.5 443.3,106.9 443.4,108.0 443.6,104.8 443.7,120.1 443.8,116.8 443.9,110.6 444.0,114.1 444.1,110.1 444.2,122.6 444.3,115.0 444.3,113.1 444.4,120.2 444.5,119.7 444.6,114.5 444.8,101.7 444.8,125.9 444.9,109.4 445.0,109.0 445.1,110.8 445.2,107.8 445.2,111.8 445.3,112.2 445.4,101.7 445.5,101.7 445.6,101.5 445.8,118.5 445.8,117.7 446.1,103.0 446.2,104.7 446.3,115.5 446.3,106.0 446.4,99.6 446.5,124.0 446.7,107.9 446.7,109.2 446.9,106.6 447.0,110.5 447.0,103.2 447.1,102.5 447.2,112.9 447.3,109.6 447.4,113.8 447.5,103.3 447.6,125.1 447.7,108.9 447.8,118.3 447.9,102.7 448.0,103.9 448.1,103.3 448.2,110.9 448.3,105.7 448.4,116.0 448.5,113.4 448.5,112.8 448.6,104.1 448.8,111.1 448.8,108.2 449.0,111.9 449.1,101.5 449.1,100.5 449.4,111.2 449.4,120.1 449.5,105.8 449.7,115.4 449.7,105.5 449.9,106.1 450.0,100.7 450.0,102.7 450.1,123.2 450.3,104.1 450.3,106.9 450.5,103.4 450.6,109.3 450.6,109.4 450.7,102.0 450.8,124.6 450.9,116.0 450.9,110.6 451.0,115.0 451.1,106.7 451.2,110.6 451.2,121.6 451.5,110.2 451.5,101.1 451.8,109.4 451.8,119.3 452.0,112.0 452.1,113.1 452.1,103.8 452.3,118.2 452.4,106.9 452.4,108.6 452.5,115.5 452.7,107.1 452.7,112.0 452.9,123.8 453.0,110.7 453.0,107.6 453.2,119.2 453.3,105.3 453.3,113.1 453.5,105.2 453.6,122.0 453.6,120.1 453.8,105.0 453.8,128.0 453.9,109.0 453.9,104.8 454.2,121.4 454.2,123.5 454.3,106.6 454.5,113.3 454.5,116.2 454.6,108.2 454.8,116.3 454.8,111.6 454.9,103.6 455.1,126.0 455.1,113.8 455.2,120.0 455.3,106.5 455.4,107.1 455.4,107.4 455.5,106.3 455.7,130.7 455.7,107.5 455.9,118.5 456.0,109.8 456.0,104.0 456.2,102.9 456.3,114.2 456.3,108.9 456.5,103.4 456.6,110.4 456.6,113.9 456.7,120.7 456.9,106.9 456.9,132.1 457.2,104.4 457.2,109.1 457.3,107.1 457.4,126.2 457.5,120.2 457.5,111.2 457.7,104.4 457.8,125.9 457.8,108.8 457.9,101.5 458.1,110.8 458.1,107.2 458.1,116.1 458.3,100.5 458.4,119.0 458.4,122.3 458.5,109.5 458.6,132.3 458.7,117.5 458.7,117.4 458.7,137.1 459.0,103.3 459.0,105.9 459.1,105.6 459.2,120.3 459.3,113.1 459.3,116.6 459.4,108.4 459.5,129.4 459.6,109.4 459.6,106.0 459.7,124.5 459.9,118.9 459.9,118.2 460.1,106.0 460.1,121.7 460.2,113.1 460.2,110.0 460.4,101.6 460.4,116.8 460.5,110.4 460.5,110.2 460.6,112.3 460.7,102.4 460.8,111.9 460.8,112.0 460.9,105.4 461.0,122.4 461.1,106.8 461.1,105.7 461.2,118.3 461.4,104.3 461.4,115.6 461.4,111.0 461.6,102.6 461.7,123.0 461.7,116.4 461.9,106.2 462.0,112.9 462.0,111.0 462.1,104.8 462.1,129.0 462.3,110.4 462.3,108.2 462.6,118.6 462.6,114.8 462.6,123.2 462.7,123.4 462.9,108.8 462.9,122.0 462.9,109.9 463.0,104.6 463.1,119.0 463.2,110.5 463.2,107.1 463.4,105.2 463.4,118.3 463.5,110.0 463.5,111.3 463.7,125.0 463.8,102.2 463.8,107.7 463.9,112.2 464.0,106.1 464.1,108.8 464.1,136.5 464.2,105.0 464.4,115.0 464.4,117.2 464.5,120.6 464.7,105.2 464.7,106.1 465.0,112.9 465.0,104.5 465.0,105.8 465.1,122.3 465.3,120.4 465.3,108.4 465.4,128.8 465.4,104.0 465.6,117.4 465.6,114.5 465.7,105.9 465.8,118.9 465.9,112.0 465.9,110.4 466.0,133.3 466.2,105.5 466.2,110.9 466.2,106.9 466.2,104.4 466.4,118.5 466.5,117.8 466.5,107.7 466.6,128.1 466.6,102.7 466.8,108.1 466.8,112.1 467.0,104.7 467.1,116.4 467.1,117.5 467.2,105.2 467.4,107.1 467.4,105.4 467.5,123.7 467.7,113.6 467.7,118.3 468.0,126.8 468.0,103.9 468.0,99.3 468.3,122.0 468.3,114.0 468.4,124.1 468.5,105.4 468.6,117.1 468.6,111.6 468.7,121.7 468.9,102.7 468.9,112.0 468.9,110.8 469.0,120.0 469.2,105.1 469.2,108.0 469.3,101.1 469.5,121.8 469.5,116.2 469.5,111.1 469.7,139.8 469.8,105.3 469.8,111.9 469.8,115.7 469.9,115.9 470.0,103.6 470.1,110.5 470.1,116.8 470.2,109.3 470.3,129.3 470.4,121.0 470.4,110.6 470.5,106.0 470.7,120.6 470.7,108.7 470.7,108.9 470.9,129.8 470.9,107.1 471.0,112.8 471.0,110.9 471.1,128.4 471.3,104.0 471.3,106.5 471.3,104.7 471.6,122.2 471.6,118.8 471.6,119.0 471.8,105.3 471.8,123.4 471.9,109.8 471.9,104.3 472.0,118.0 472.2,102.9 472.2,104.3 472.2,108.8 472.3,134.1 472.5,110.6 472.5,106.6 472.7,122.7 472.8,102.9 472.8,104.9 472.8,107.7 472.9,106.8 472.9,124.0 473.1,115.5 473.1,112.8 473.2,122.5 473.3,103.9 473.4,110.2 473.4,111.5 473.5,104.3 473.6,124.1 473.7,111.4 473.7,113.1 473.8,103.3 473.9,123.5 474.0,121.4 474.0,121.2 474.0,108.4 474.1,127.5 474.3,113.0 474.3,112.9 474.4,105.7 474.4,141.6 474.6,122.7 474.6,117.4 474.7,104.7 474.8,120.4 474.9,106.3 474.9,106.6 475.0,101.8 475.0,126.0 475.2,105.4 475.2,108.0 475.2,124.1 475.3,102.9 475.5,113.0 475.5,123.7 475.7,124.6 475.8,101.1 475.8,102.9 475.8,109.0 476.1,124.5 476.1,119.1 476.2,105.4 476.2,125.7 476.4,115.9 476.4,126.4 476.6,103.0 476.7,108.2 476.7,105.3 476.9,124.6 477.0,109.7 477.0,105.5 477.0,125.7 477.2,104.8 477.3,113.2 477.3,117.3 477.4,104.3 477.5,126.0 477.6,117.5 477.6,114.0 477.8,129.4 477.8,105.6 477.9,111.7 477.9,111.0 478.0,109.1 478.0,124.7 478.2,111.9 478.2,108.8 478.3,102.6 478.4,124.1 478.5,110.3 478.5,111.6 478.6,121.4 478.6,106.7 478.8,111.7 478.8,112.3 478.9,108.3 479.0,138.5 479.1,109.2 479.1,110.6 479.2,148.7 479.2,105.3 479.4,116.0 479.4,107.5 479.6,102.7 479.7,126.1 479.7,110.5 479.7,108.0 479.8,128.4 479.9,108.0 480.0,111.6 480.0,115.9 480.2,129.9 480.3,104.0 480.3,103.4 480.5,133.4 480.6,113.7 480.6,120.1 480.6,123.0 480.7,107.4 480.9,111.9 480.9,115.3 481.0,103.5 481.1,128.5 481.2,126.9 481.2,118.8 481.3,106.6 481.3,124.6 481.5,107.1 481.5,107.7 481.6,107.2 481.6,128.6 481.8,108.2 481.8,118.1 482.0,122.7 482.0,102.3 482.1,118.1 482.1,108.1 482.1,125.8 482.4,104.7 482.4,104.3 482.6,129.7 482.7,114.2 482.7,115.2 482.9,105.7 483.0,129.5 483.0,122.0 483.0,117.2 483.1,131.7 483.2,103.1 483.3,110.4 483.3,122.2 483.4,131.3 483.5,107.6 483.6,109.3 483.6,112.8 483.6,105.0 483.7,120.6 483.9,113.6 483.9,113.9 484.0,103.5 484.0,120.6 484.2,111.8 484.2,114.8 484.2,104.9 484.4,128.3 484.5,118.9 484.5,112.1 484.5,105.8 484.8,138.9 484.8,108.3 484.8,109.0 485.0,127.1 485.1,102.9 485.1,104.9 485.1,111.0 485.4,132.1 485.4,106.4 485.4,108.3 485.5,129.5 485.6,101.2 485.7,110.8 485.7,109.7 486.0,129.3 486.0,104.7 486.0,110.8 486.0,122.4 486.1,104.3 486.3,121.5 486.3,105.1 486.3,101.8 486.5,123.3 486.6,112.4 486.6,113.6 486.8,124.9 486.9,101.5 486.9,107.7 486.9,126.4 487.0,106.3 487.1,129.4 487.2,115.7 487.2,114.1 487.4,106.3 487.4,136.9 487.5,107.4 487.5,105.6 487.6,102.8 487.6,133.1 487.8,115.6 487.8,105.8 487.8,105.2 488.0,126.5 488.1,123.6 488.1,112.9 488.2,127.7 488.2,107.5 488.4,115.0 488.4,112.5 488.6,104.3 488.7,129.3 488.7,116.1 488.7,120.9 488.8,125.3 489.0,105.6 489.0,108.9 489.2,105.8 489.3,129.4 489.3,109.3 489.3,108.6 489.4,124.3 489.5,106.5 489.6,115.4 489.6,109.0 489.7,129.9 489.9,103.9 489.9,119.3 489.9,132.6 490.1,106.4 490.2,114.8 490.2,108.9 490.2,103.5 490.4,121.5 490.5,116.1 490.5,114.8 490.5,126.2 490.7,103.1 490.8,120.0 490.8,122.6 490.9,136.0 490.9,102.2 491.1,123.0 491.1,116.7 491.3,131.6 491.4,104.0 491.4,127.9 491.4,111.7 491.4,103.4 491.5,125.3 491.7,111.7 491.7,114.7 491.8,120.7 491.9,106.1 492.0,118.2 492.0,111.7 492.2,132.0 492.3,100.5 492.3,105.9 492.4,120.9 492.6,120.6 492.6,110.7 492.6,105.6 492.6,131.6 492.9,112.5 492.9,116.9 493.1,102.3 493.2,132.5 493.2,108.5 493.2,106.6 493.3,131.1 493.4,102.9 493.5,108.0 493.5,105.6 493.5,104.7 493.8,124.3 493.8,110.9 493.8,107.6 494.0,99.2 494.1,124.8 494.1,109.2 494.2,105.5 494.3,133.5 494.4,105.7 494.4,105.8 494.6,147.9 494.7,111.5 494.7,110.2 494.8,131.0 494.9,103.0 495.0,106.4 495.0,105.6 495.1,130.6 495.2,104.1 495.3,107.8 495.3,106.7 495.3,104.7 495.3,128.6 495.6,119.6 495.6,107.1 495.6,103.4 495.9,138.7 495.9,119.2 495.9,140.6 496.1,103.9 496.2,130.5 496.2,116.1 496.2,126.9 496.4,101.6 496.5,112.5 496.5,109.4 496.7,130.1 496.8,103.9 496.8,111.9 496.8,114.0 496.8,128.6 497.0,103.3 497.1,121.7 497.1,115.0 497.2,134.7 497.3,106.6 497.4,107.4 497.4,106.6 497.6,124.6 497.6,103.2 497.7,120.7 497.7,130.1 497.7,105.4 497.9,132.5 498.0,116.3 498.0,113.2 498.2,107.0 498.3,133.9 498.3,114.7 498.3,106.5 498.4,131.7 498.6,103.8 498.6,105.8 498.6,121.0 498.8,138.0 498.8,104.5 498.9,107.5 498.9,108.4 498.9,107.3 499.2,142.6 499.2,120.5 499.2,122.4 499.3,102.4 499.4,128.6 499.5,115.9 499.5,129.2 499.7,104.4 499.7,138.5 499.8,126.5 499.8,119.5 499.8,107.2 499.9,135.8 500.1,109.3 500.1,104.4 500.2,125.0 500.4,100.3 500.4,101.9 500.4,112.0 500.4,127.4 500.5,103.4 500.7,121.1 500.7,115.7 500.9,143.4 500.9,104.2 501.0,111.4 501.0,115.1 501.1,144.7 501.2,105.0 501.3,110.9 501.3,109.4 501.4,127.1 501.4,106.4 501.6,115.3 501.6,115.1 501.8,138.7 501.9,102.5 501.9,116.2 501.9,102.1 502.0,129.3 502.2,90.2 502.2,131.2 502.3,84.9 502.5,95.9 502.5,109.2 502.5,96.3 502.8,118.8 502.8,111.9 502.8,114.6 502.9,130.6 503.1,101.5 503.1,108.8 503.1,112.6 503.2,102.1 503.2,137.0 503.4,108.9 503.4,127.3 503.4,105.6 503.6,134.3 503.7,105.9 503.7,114.3 503.8,125.2 503.9,104.3 504.0,115.8 504.0,119.7 504.1,133.0 504.2,106.3 504.3,111.3 504.3,112.2 504.5,104.6 504.5,130.9 504.6,112.9 504.6,121.9 504.6,132.3 504.7,103.5 504.9,106.8 504.9,108.3 505.0,104.4 505.2,129.2 505.2,111.3 505.2,110.8 505.2,104.4 505.2,139.3 505.5,106.0 505.5,107.2 505.5,106.0 505.7,129.6 505.8,126.7 505.8,115.3 505.8,103.6 505.8,135.0 506.1,110.0 506.1,112.0 506.2,105.5 506.4,138.0 506.4,114.9 506.4,115.9 506.6,128.3 506.7,104.7 506.7,118.7 506.7,116.5 506.9,103.4 506.9,135.1 507.0,116.3 507.0,114.1 507.1,103.1 507.3,132.0 507.3,131.4 507.3,121.9 507.5,130.6 507.5,105.0 507.6,123.4 507.6,130.2 507.7,104.4 507.7,132.4 507.9,116.1 507.9,114.0 508.0,105.4 508.2,144.1 508.2,116.2 508.2,122.1 508.2,132.3 508.3,104.4 508.5,126.3 508.5,112.6 508.6,128.9 508.6,103.1 508.8,109.6 508.8,109.9 508.9,107.0 508.9,132.6 509.1,118.3 509.1,111.7 509.2,129.5 509.4,103.0 509.4,113.1 509.4,106.1 509.5,103.6 509.5,136.0 509.7,119.9 509.7,113.8 509.7,128.0 509.8,103.5 510.0,118.9 510.0,116.2 510.0,104.8 510.0,138.4 510.3,110.9 510.3,111.8 510.4,104.5 510.5,134.5 510.6,109.9 510.6,112.3 510.6,103.4 510.8,133.3 510.9,117.8 510.9,120.7 511.0,134.4 511.2,103.4 511.2,108.0 511.2,119.0 511.4,104.2 511.4,130.7 511.5,109.9 511.5,113.0 511.6,137.0 511.7,103.1 511.8,122.3 511.8,109.8 511.8,153.3 512.0,105.0 512.1,114.9 512.1,110.0 512.2,129.9 512.4,104.1 512.4,112.3 512.4,114.9 512.5,104.8 512.6,130.6 512.7,111.6 512.7,108.7 512.8,102.6 512.8,131.9 513.0,110.3 513.0,110.6 513.1,124.6 513.2,103.8 513.3,106.5 513.3,105.5 513.3,103.5 513.5,149.7 513.6,108.2 513.6,109.4 513.8,135.6 513.8,106.1 513.9,122.5 513.9,118.1 514.0,104.2 514.0,145.3 514.2,112.6 514.2,109.3 514.3,102.6 514.4,137.8 514.5,112.8 514.5,113.6 514.6,135.3 514.7,103.0 514.8,114.2 514.8,113.1 514.9,105.1 514.9,142.8 515.1,118.3 515.1,111.4 515.3,105.6 515.3,136.3 515.4,108.6 515.4,109.0 515.4,136.4 515.7,102.0 515.7,110.3 515.7,125.1 515.7,103.3 515.9,146.7 516.0,110.8 516.0,114.4 516.0,103.7 516.3,137.1 516.3,108.1 516.3,103.4 516.6,136.8 516.6,112.3 516.6,114.4 516.7,139.2 516.7,101.4 516.9,112.7 516.9,122.3 516.9,139.6 517.0,101.9 517.2,108.9 517.2,107.5 517.2,130.0 517.3,104.1 517.5,118.1 517.5,109.0 517.5,104.8 517.7,130.1 517.8,116.0 517.8,111.7 518.0,128.4 518.1,100.3 518.1,116.0 518.3,129.5 518.4,86.0 518.4,108.8 518.4,85.6 518.4,82.5 518.5,131.2 518.7,96.8 518.7,116.3 518.7,97.1 518.8,129.1 519.0,111.7 519.0,113.6 519.0,137.0 519.2,104.9 519.3,121.7 519.3,124.4 519.4,133.1 519.5,103.2 519.6,104.9 519.6,104.2 519.8,128.7 519.9,111.6 519.9,114.2 520.1,104.2 520.2,135.7 520.2,107.0 520.2,111.1 520.2,99.6 520.3,148.7 520.5,113.6 520.5,117.9 520.7,132.3 520.8,104.9 520.8,108.9 520.8,112.2 520.8,151.4 520.9,103.7 521.1,107.1 521.1,107.0 521.2,132.6 521.2,106.1 521.4,113.2 521.4,112.8 521.5,103.4 521.5,135.5 521.7,114.0 521.7,113.3 521.8,104.5 521.9,135.5 522.0,114.6 522.0,112.6 522.0,104.7 522.1,143.9 522.3,109.6 522.3,112.8 522.3,133.1 522.5,104.7 522.6,120.7 522.6,119.4 522.7,104.2 522.8,144.7 522.9,112.1 522.9,111.3 523.0,137.6 523.1,103.2 523.2,124.4 523.2,115.7 523.3,105.6 523.4,144.1 523.5,116.8 523.5,109.3 523.5,105.2 523.6,132.9 523.6,116.4"/>
<polyline clip-path="url(#c2)" fill="none" stroke="#50c896" stroke-width="0.85" stroke-linejoin="round" points="325.1,112.7 334.6,115.7 341.3,120.9 346.5,118.4 350.7,112.2 354.3,120.1 357.4,114.0 360.2,128.3 362.6,113.6 364.8,120.2 366.9,118.6 368.7,117.4 370.5,124.2 372.1,128.3 373.6,121.9 375.0,120.8 376.3,118.6 377.6,114.6 378.8,111.1 379.9,116.3 381.0,120.8 382.0,119.7 383.0,119.1 384.0,121.4 384.9,127.6 385.8,134.0 386.6,121.9 387.4,116.9 388.2,119.7 389.0,126.5 389.7,132.7 390.4,124.2 391.1,119.7 391.8,134.4 392.5,137.4 393.1,117.4 393.7,114.7 394.3,114.5 394.9,115.6 395.5,114.1 396.1,114.1 396.6,115.6 397.2,116.6 397.7,116.7 398.2,119.4 398.7,137.1 399.2,121.2 399.7,127.7 400.1,121.1 400.6,118.0 401.0,122.2 401.5,134.6 401.9,130.6 402.4,123.1 402.8,119.5 403.2,117.7 403.6,117.9 404.0,121.2 404.4,125.2 404.8,130.9 405.1,131.4 405.5,121.8 405.9,121.8 406.3,120.1 406.6,119.2 407.0,117.2 407.3,122.9 407.6,137.2 408.0,136.8 408.3,127.7 408.6,118.4 409.0,118.2 409.3,122.2 409.6,139.8 409.9,122.0 410.2,119.3 410.5,133.6 410.8,124.2 411.1,120.8 411.4,132.1 411.7,130.5 411.9,127.0 412.2,128.0 412.5,125.4 412.8,123.1 413.0,118.4 413.3,115.4 413.6,114.3 413.8,121.9 414.1,121.8 414.3,120.8 414.6,121.2 414.8,125.3 415.1,135.2 415.3,136.4 415.6,131.3 415.8,127.5 416.1,127.0 416.3,121.9 416.5,121.0 416.8,120.6 417.0,124.6 417.2,118.6 417.4,117.0 417.7,120.6 417.9,119.5 418.1,123.2 418.3,122.6 418.5,118.7 418.7,124.1 418.9,118.5 419.1,116.4 419.3,113.9 419.6,119.3 419.8,130.3 420.0,127.8 420.2,127.9 420.3,120.0 420.5,117.8 420.7,118.3 420.9,122.3 421.1,125.9 421.3,123.7 421.5,123.4 421.7,125.3 421.9,127.7 422.0,129.1 422.2,122.0 422.4,126.1 422.6,119.1 422.8,121.2 422.9,129.1 423.1,121.7 423.3,118.3 423.5,120.3 423.6,122.5 423.8,118.4 424.0,134.1 424.1,121.7 424.3,120.2 424.5,120.2 424.6,127.9 424.8,118.8 425.0,113.4 425.1,119.2 425.3,134.7 425.4,129.2 425.6,126.4 425.7,123.1 425.9,118.4 426.1,121.9 426.2,131.8 426.4,126.2 426.5,119.9 426.7,122.6 426.8,120.2 427.0,120.2 427.1,123.5 427.2,125.9 427.4,125.6 427.5,120.6 427.7,116.5 427.8,123.2 428.0,141.6 428.1,133.7 428.2,124.3 428.4,124.5 428.5,120.0 428.7,121.3 428.8,130.3 428.9,125.6 429.1,120.0 429.2,120.0 429.3,118.4 429.5,120.5 429.6,139.4 429.7,126.9 429.9,119.2 430.0,115.2 430.1,115.4 430.3,125.3 430.4,121.6 430.5,114.7 430.6,115.1 430.8,127.1 430.9,113.5 431.0,112.7 431.1,117.7 431.3,128.5 431.4,119.4 431.5,127.7 431.6,136.6 431.7,127.9 431.9,127.5 432.0,135.9 432.1,122.3 432.2,57.6 432.3,20.4 432.4,6.8 432.6,20.4 432.7,57.6 432.8,117.6 432.9,123.8 433.0,118.9 433.1,119.8 433.3,133.7 433.4,123.0 433.5,119.1 433.6,115.4 433.7,122.2 433.8,124.7 433.9,117.0 434.0,121.9 434.1,116.0 434.2,118.0 434.4,133.8 434.5,125.5 434.6,115.6 434.7,120.0 434.8,119.0 434.9,124.8 435.0,120.4 435.1,120.4 435.2,122.1 435.3,127.0 435.4,124.2 435.5,124.4 435.6,133.0 435.7,123.0 435.8,128.5 435.9,117.0 436.0,112.8 436.1,120.9 436.2,126.4 436.3,134.0 436.4,123.8 436.5,122.2 436.6,117.5 436.8,126.5 436.9,122.5 437.0,161.0 437.1,121.4 437.2,117.9 437.3,114.4 437.4,112.0 437.5,114.7 437.6,115.9 437.7,118.8 437.7,134.2 437.8,124.6 437.9,136.9 438.0,127.0 438.3,116.5 438.4,122.0 438.5,125.9 438.6,120.6 438.7,121.7 438.7,120.9 438.8,122.7 438.9,123.4 439.1,119.7 439.2,122.9 439.3,119.4 439.4,114.9 439.4,118.0 439.5,123.5 439.7,119.8 439.8,124.3 439.9,147.7 440.0,120.1 440.0,115.7 440.1,128.2 440.3,134.5 440.4,132.7 440.5,120.0 440.5,121.6 440.6,125.2 440.7,123.0 440.8,132.0 441.0,123.8 441.0,120.6 441.2,130.7 441.3,119.1 441.4,117.1 441.4,121.0 441.6,120.4 441.7,115.7 441.7,116.5 441.8,122.3 441.9,125.5 442.0,121.3 442.1,134.6 442.1,122.0 442.2,131.5 442.3,124.6 442.4,141.2 442.5,130.3 442.6,144.2 442.7,138.5 442.8,125.9 443.0,120.9 443.0,121.4 443.1,144.9 443.3,119.3 443.4,129.5 443.5,131.8 443.6,116.1 443.7,117.9 443.8,122.0 443.9,117.1 444.0,126.0 444.1,122.3 444.1,121.8 444.3,137.9 444.3,122.8 444.5,128.7 444.5,124.9 444.6,131.2 444.9,115.1 445.0,115.9 445.1,129.2 445.2,116.6 445.2,117.1 445.3,125.4 445.5,121.3 445.6,120.1 445.7,136.5 445.8,124.5 445.8,128.7 446.0,122.8 446.1,123.0 446.2,118.7 446.2,114.7 446.3,122.7 446.4,125.7 446.5,123.6 446.6,133.8 446.7,125.2 446.7,119.6 446.9,124.1 447.0,115.5 447.0,112.6 447.3,126.9 447.4,132.8 447.6,119.6 447.7,123.8 447.8,142.5 447.9,134.5 448.0,121.2 448.0,130.7 448.1,118.8 448.2,121.3 448.3,135.4 448.4,119.8 448.5,123.8 448.5,126.4 448.7,119.7 448.8,139.3 448.8,120.6 448.9,118.5 449.1,132.2 449.1,137.8 449.2,119.0 449.4,121.3 449.4,118.2 449.5,116.4 449.5,120.3 449.7,117.6 449.7,121.8 449.9,132.5 450.0,126.7 450.0,126.7 450.2,131.1 450.3,122.4 450.3,121.6 450.5,119.7 450.6,149.9 450.6,120.9 450.8,129.7 450.9,127.1 450.9,129.5 451.1,118.5 451.2,121.1 451.2,119.6 451.3,122.3 451.4,118.1 451.5,122.1 451.5,121.9 451.6,120.8 451.6,134.2 451.8,127.3 451.8,127.3 452.0,129.9 452.1,119.5 452.1,118.1 452.4,132.3 452.4,130.9 452.5,132.9 452.6,126.8 452.7,132.3 452.7,125.1 452.8,139.3 453.0,121.1 453.0,122.7 453.1,122.6 453.2,131.0 453.3,122.7 453.3,126.9 453.4,121.7 453.6,130.7 453.6,145.0 453.8,117.5 453.9,126.6 453.9,142.6 453.9,147.7 454.1,120.2 454.2,133.8 454.2,121.3 454.3,136.9 454.5,123.6 454.5,121.7 454.6,142.4 454.8,134.8 454.8,126.1 455.0,137.2 455.1,119.0 455.1,121.4 455.3,120.6 455.3,130.1 455.4,128.7 455.4,122.8 455.6,132.1 455.7,127.0 455.7,122.9 455.8,130.3 455.9,119.3 456.0,122.1 456.0,127.4 456.1,120.9 456.2,136.3 456.3,122.4 456.3,121.6 456.5,134.4 456.5,119.7 456.6,124.7 456.6,120.1 456.7,117.9 456.9,133.8 456.9,123.1 456.9,120.0 457.1,144.0 457.2,120.2 457.2,119.1 457.3,140.0 457.5,125.8 457.5,128.9 457.5,131.2 457.7,116.7 457.8,125.5 457.8,118.8 457.9,136.0 458.1,123.0 458.1,135.1 458.2,148.6 458.3,127.5 458.4,131.0 458.4,125.5 458.4,120.2 458.6,128.8 458.7,127.1 458.7,131.6 458.9,135.5 458.9,124.7 459.0,126.4 459.0,138.3 459.1,126.8 459.1,144.8 459.3,132.7 459.3,125.5 459.5,120.0 459.6,125.8 459.6,130.7 459.7,118.1 459.8,149.3 459.9,123.4 459.9,129.3 460.1,118.4 460.1,131.9 460.2,125.6 460.2,122.9 460.3,136.7 460.5,123.1 460.5,124.8 460.6,133.4 460.6,121.2 460.8,129.7 460.8,124.9 460.9,117.2 461.0,129.8 461.1,129.8 461.1,137.6 461.2,139.1 461.3,120.9 461.4,122.1 461.4,129.4 461.5,145.1 461.6,122.3 461.7,130.2 461.7,133.0 461.9,123.0 461.9,147.9 462.0,131.7 462.0,136.9 462.2,118.7 462.3,129.1 462.3,122.2 462.3,119.7 462.4,136.7 462.6,127.1 462.6,125.2 462.7,138.1 462.9,135.1 462.9,139.9 463.1,122.0 463.2,122.1 463.2,127.7 463.3,138.7 463.3,119.0 463.5,131.5 463.5,125.7 463.5,137.1 463.7,120.2 463.8,129.9 463.8,131.5 463.9,145.1 464.1,125.0 464.1,136.2 464.1,131.5 464.2,141.2 464.3,123.8 464.4,130.4 464.4,135.8 464.4,125.4 464.6,138.4 464.7,135.6 464.7,123.3 464.7,118.9 464.9,142.6 465.0,124.9 465.0,131.3 465.1,131.9 465.2,121.2 465.3,127.8 465.3,126.6 465.3,123.3 465.5,139.6 465.6,132.9 465.6,136.3 465.8,138.9 465.8,125.4 465.9,126.7 465.9,123.7 465.9,122.2 466.2,135.5 466.2,122.9 466.2,130.4 466.3,122.6 466.4,137.5 466.5,126.1 466.5,127.8 466.6,134.6 466.7,120.6 466.8,124.7 466.8,128.2 466.9,144.0 467.1,120.9 467.1,126.0 467.1,130.8 467.2,124.4 467.3,148.0 467.4,126.6 467.4,132.0 467.4,124.6 467.7,157.6 467.7,130.3 467.9,139.1 468.0,127.2 468.0,123.8 468.1,139.4 468.3,139.1 468.3,129.5 468.5,146.1 468.6,120.8 468.6,119.4 468.8,136.4 468.9,133.6 468.9,135.7 469.0,142.4 469.1,124.3 469.2,127.1 469.2,145.9 469.3,123.6 469.5,143.1 469.5,151.0 469.7,126.5 469.8,135.7 469.8,126.6 469.9,120.0 470.0,135.6 470.1,129.1 470.1,138.4 470.2,143.5 470.2,120.9 470.4,128.5 470.4,128.9 470.5,136.5 470.7,121.6 470.7,122.9 470.7,130.6 470.9,142.8 470.9,121.5 471.0,133.6 471.0,137.3 471.2,148.5 471.2,121.8 471.3,131.6 471.3,122.2 471.4,136.5 471.6,126.3 471.6,124.2 471.7,122.8 471.9,151.2 471.9,129.8 471.9,137.2 472.0,125.4 472.1,144.8 472.2,138.4 472.2,151.8 472.3,123.3 472.5,126.2 472.5,127.2 472.5,124.5 472.6,138.9 472.8,133.9 472.8,136.7 472.9,124.3 473.0,139.2 473.1,136.2 473.1,136.5 473.2,127.0 473.3,144.9 473.4,135.4 473.4,125.7 473.6,133.4 473.6,120.1 473.7,127.0 473.7,127.0 473.8,125.3 474.0,156.4 474.0,127.5 474.0,122.7 474.0,121.6 474.1,134.7 474.3,126.9 474.3,132.1 474.5,155.4 474.6,125.4 474.6,126.4 474.6,129.1 474.7,140.9 474.8,128.2 474.9,129.7 474.9,131.3 475.1,122.9 475.2,145.8 475.2,138.8 475.2,130.6 475.2,151.1 475.3,126.6 475.5,131.7 475.5,135.3 475.6,140.7 475.7,120.1 475.8,137.3 475.8,148.4 476.1,122.3 476.1,123.7 476.1,132.2 476.2,142.6 476.3,123.6 476.4,129.1 476.4,134.0 476.5,137.9 476.6,127.3 476.7,134.3 476.7,135.0 476.7,150.7 476.8,121.4 477.0,131.6 477.0,131.2 477.3,145.5 477.3,125.9 477.3,127.4 477.4,153.1 477.5,125.8 477.6,145.7 477.6,125.5 477.6,124.7 477.7,141.1 477.9,125.6 477.9,125.6 478.1,147.3 478.2,123.3 478.2,121.4 478.4,144.8 478.5,133.9 478.5,128.5 478.7,121.8 478.7,158.1 478.8,133.3 478.8,132.2 478.9,145.6 479.1,125.7 479.1,127.2 479.1,135.4 479.2,150.0 479.3,127.6 479.4,133.7 479.4,134.3 479.6,119.8 479.7,141.2 479.7,130.8 479.7,126.0 479.9,146.5 479.9,125.1 480.0,126.6 480.0,124.4 480.3,148.3 480.3,129.1 480.3,131.2 480.3,123.8 480.6,150.4 480.6,138.4 480.6,126.8 480.8,151.7 480.9,124.5 480.9,125.6 480.9,137.6 481.0,145.3 481.1,125.5 481.2,126.9 481.2,127.0 481.3,125.5 481.4,142.2 481.5,130.9 481.5,133.5 481.6,139.4 481.8,124.5 481.8,136.0 481.8,135.9 481.9,121.4 482.1,156.0 482.1,144.2 482.2,125.2 482.4,147.7 482.4,147.3 482.4,138.8 482.4,151.2 482.5,123.8 482.7,144.3 482.7,134.9 482.8,144.7 483.0,126.1 483.0,131.8 483.1,139.8 483.3,119.4 483.3,124.0 483.6,167.0 483.6,133.2 483.6,141.3 483.6,157.2 483.7,125.4 483.9,138.8 483.9,135.6 484.1,143.0 484.2,125.2 484.2,131.0 484.2,129.9 484.2,150.5 484.5,125.4 484.5,131.4 484.5,135.9 484.5,122.8 484.7,141.1 484.8,125.6 484.8,127.0 484.9,150.9 485.0,125.2 485.1,136.3 485.1,133.3 485.2,123.9 485.2,150.8 485.4,126.0 485.4,130.6 485.5,150.3 485.6,129.1 485.7,137.5 485.7,134.6 485.7,146.9 485.8,126.4 486.0,139.5 486.0,133.3 486.1,148.5 486.1,125.3 486.3,134.4 486.3,134.2 486.5,122.5 486.5,141.2 486.6,133.3 486.6,133.2 486.6,152.0 486.9,122.4 486.9,141.4 486.9,126.0 486.9,147.7 487.1,125.8 487.2,132.5 487.2,125.4 487.2,145.7 487.5,137.0 487.5,136.9 487.5,143.8 487.8,127.0 487.8,129.0 487.8,127.3 487.9,124.2 488.1,141.9 488.1,131.1 488.2,148.0 488.4,122.3 488.4,137.3 488.4,140.5 488.5,145.4 488.6,125.7 488.7,128.1 488.7,128.2 488.9,122.7 488.9,143.7 489.0,141.2 489.0,131.1 489.0,123.3 489.3,149.1 489.3,132.6 489.3,135.1 489.4,122.6 489.5,152.3 489.6,132.0 489.6,127.0 489.7,157.1 489.9,139.8 489.9,140.2 489.9,146.7 490.0,125.1 490.2,142.3 490.2,141.9 490.2,152.8 490.3,126.6 490.5,135.8 490.5,132.9 490.5,125.4 490.8,157.1 490.8,139.4 490.8,135.9 490.8,124.8 491.0,147.9 491.1,128.7 491.1,125.3 491.1,148.1 491.1,125.3 491.4,132.9 491.4,143.7 491.6,123.0 491.7,150.9 491.7,138.9 491.7,136.5 491.7,124.9 491.9,151.5 492.0,134.3 492.0,137.5 492.0,146.4 492.1,125.3 492.3,139.2 492.3,138.3 492.5,125.9 492.5,149.7 492.6,134.9 492.6,146.6 492.7,126.4 492.7,154.1 492.9,145.4 492.9,129.1 493.0,144.3 493.1,124.5 493.2,132.6 493.2,138.2 493.4,124.9 493.5,147.0 493.5,137.7 493.5,132.1 493.7,125.0 493.7,144.5 493.8,134.8 493.8,153.3 494.0,127.0 494.1,129.4 494.1,128.5 494.1,124.7 494.2,148.9 494.4,134.4 494.4,130.5 494.4,154.4 494.6,123.6 494.7,136.7 494.7,136.6 494.7,152.7 494.8,125.6 495.0,142.1 495.0,133.6 495.2,143.9 495.3,126.2 495.3,143.5 495.3,129.4 495.5,152.6 495.5,123.9 495.6,130.6 495.6,125.6 495.8,123.3 495.8,145.2 495.9,135.7 495.9,125.5 496.0,123.3 496.0,149.7 496.2,125.9 496.2,132.8 496.3,145.8 496.4,125.8 496.5,126.8 496.5,130.4 496.5,156.2 496.6,123.2 496.8,126.9 496.8,133.6 497.0,121.3 497.0,160.8 497.1,142.0 497.1,137.2 497.1,157.7 497.3,123.1 497.4,131.0 497.4,132.9 497.6,146.9 497.6,125.9 497.7,134.0 497.7,134.4 497.8,149.3 497.9,122.3 498.0,135.9 498.0,142.6 498.2,154.2 498.3,124.1 498.3,126.9 498.3,121.9 498.6,165.7 498.6,134.7 498.6,138.7 498.7,121.9 498.7,150.2 498.9,130.0 498.9,125.3 499.1,125.2 499.2,148.2 499.2,134.9 499.3,147.7 499.3,123.6 499.5,132.1 499.5,127.9 499.7,156.0 499.7,124.4 499.8,136.4 499.8,134.5 499.8,148.4 500.0,124.3 500.1,141.4 500.1,132.2 500.1,122.4 500.2,154.4 500.4,126.9 500.4,130.0 500.4,122.8 500.5,142.9 500.7,135.3 500.7,137.5 500.9,126.7 501.0,145.9 501.0,128.9 501.0,127.7 501.1,156.8 501.2,125.2 501.3,148.6 501.3,135.6 501.4,124.4 501.4,149.5 501.6,133.5 501.6,129.2 501.7,124.0 501.8,149.1 501.9,129.2 501.9,134.2 502.0,148.6 502.2,125.1 502.2,129.7 502.2,128.3 502.3,122.2 502.4,155.3 502.5,127.0 502.5,126.3 502.7,153.0 502.7,124.3 502.8,133.8 502.8,132.1 502.9,123.9 503.1,162.5 503.1,139.6 503.1,137.6 503.2,170.6 503.4,127.4 503.4,143.1 503.4,142.7 503.4,146.4 503.6,126.0 503.7,146.1 503.7,136.5 503.8,123.9 503.8,152.8 504.0,134.1 504.0,130.3 504.1,144.3 504.2,126.5 504.3,129.6 504.3,128.1 504.4,123.9 504.6,153.1 504.6,137.7 504.6,129.3 504.6,158.9 504.7,123.6 504.9,139.2 504.9,141.5 505.0,153.1 505.2,125.4 505.2,136.4 505.2,140.5 505.2,153.3 505.2,122.0 505.5,136.9 505.5,137.6 505.5,157.0 505.6,124.2 505.8,127.4 505.8,126.5 505.8,124.5 505.9,156.9 506.1,124.8 506.1,133.4 506.2,156.8 506.3,122.6 506.4,127.6 506.4,136.7 506.5,123.9 506.6,148.4 506.7,132.2 506.7,143.5 506.8,121.8 507.0,153.2 507.0,125.2 507.0,127.9 507.1,148.5 507.1,124.3 507.3,138.9 507.3,137.0 507.3,124.6 507.6,151.2 507.6,132.6 507.6,132.8 507.6,150.8 507.9,123.7 507.9,140.1 507.9,139.6 507.9,154.5 507.9,123.8 508.2,127.7 508.2,132.2 508.2,157.2 508.3,123.7 508.5,141.5 508.5,137.6 508.7,150.0 508.7,126.6 508.8,133.4 508.8,133.1 509.0,152.6 509.0,125.8 509.1,140.0 509.1,142.4 509.1,160.5 509.2,125.7 509.4,134.1 509.4,134.0 509.5,123.4 509.6,152.0 509.7,126.8 509.7,141.5 509.7,156.9 510.0,125.6 510.0,132.3 510.0,136.1 510.0,149.3 510.1,122.9 510.3,138.0 510.3,130.7 510.4,153.6 510.4,122.4 510.6,133.5 510.6,149.7 510.6,124.9 510.8,166.0 510.9,134.3 510.9,131.8 511.0,124.6 511.1,148.9 511.2,127.7 511.2,131.6 511.4,152.9 511.4,125.3 511.5,134.9 511.5,136.2 511.6,155.0 511.7,123.7 511.8,130.5 511.8,131.7 511.9,125.4 512.0,156.6 512.1,131.2 512.1,131.2 512.3,158.4 512.4,123.6 512.4,128.8 512.4,126.1 512.4,154.9 512.6,123.7 512.7,131.5 512.7,134.1 512.9,163.9 513.0,125.1 513.0,129.5 513.0,128.4 513.1,121.4 513.3,148.7 513.3,121.6 513.3,125.7 513.3,123.9 513.5,158.8 513.6,130.4 513.6,134.6 513.6,153.2 513.8,125.5 513.9,133.9 513.9,134.1 514.0,123.8 514.1,157.8 514.2,136.6 514.2,138.1 514.3,123.9 514.3,156.3 514.5,139.4 514.5,137.7 514.6,123.7 514.6,150.3 514.8,126.9 514.8,126.3 514.9,152.3 515.1,122.9 515.1,130.3 515.1,123.4 515.2,150.1 515.4,132.7 515.4,135.6 515.5,123.2 515.7,153.8 515.7,135.0 515.7,133.8 515.7,124.0 515.8,156.7 516.0,142.4 516.0,136.2 516.0,146.4 516.1,124.2 516.3,133.7 516.3,148.6 516.5,153.4 516.6,124.0 516.6,128.5 516.6,128.1 516.7,125.0 516.8,150.2 516.9,142.0 516.9,133.8 516.9,152.2 517.0,124.9 517.2,135.0 517.2,137.6 517.2,123.2 517.3,165.3 517.5,125.2 517.5,128.9 517.7,123.5 517.7,155.5 517.8,132.2 517.8,141.2 517.8,150.4 518.0,125.1 518.1,133.1 518.1,129.9 518.1,121.4 518.3,153.4 518.4,130.7 518.4,130.2 518.5,152.3 518.6,123.5 518.7,127.2 518.7,129.0 518.8,123.2 518.9,160.8 519.0,127.8 519.0,127.5 519.2,125.0 519.2,160.6 519.3,128.3 519.3,142.7 519.5,156.1 519.6,124.2 519.6,130.6 519.6,128.4 519.6,151.0 519.7,124.9 519.9,131.2 519.9,139.6 520.1,124.9 520.1,160.2 520.2,126.3 520.2,128.3 520.4,124.6 520.4,152.3 520.5,129.7 520.5,131.4 520.7,169.4 520.8,124.7 520.8,131.8 520.8,137.1 520.9,123.3 521.0,156.6 521.1,140.7 521.1,129.0 521.1,122.1 521.3,151.2 521.4,127.7 521.4,135.2 521.6,148.7 521.7,124.1 521.7,127.1 521.7,128.1 521.8,153.7 521.8,121.8 522.0,126.5 522.0,123.9 522.2,154.3 522.2,123.7 522.3,131.2 522.3,132.9 522.4,158.3 522.6,122.6 522.6,151.8 522.6,148.7 522.8,124.9 522.9,152.4 522.9,129.4 522.9,140.6 523.0,157.7 523.1,122.3 523.2,130.9 523.2,135.6 523.3,162.5 523.4,125.2 523.5,133.8 523.5,132.5 523.5,125.0 523.6,158.8 523.6,128.3"/>
<path d="M325.10 179.50v-2.00M325.10 10.20v2.00M341.26 179.50v-1.00M341.26 10.20v1.00M350.71 179.50v-1.00M350.71 10.20v1.00M357.42 179.50v-1.00M357.42 10.20v1.00M362.62 179.50v-1.00M362.62 10.20v1.00M366.87 179.50v-1.00M366.87 10.20v1.00M370.46 179.50v-1.00M370.46 10.20v1.00M373.57 179.50v-1.00M373.57 10.20v1.00M376.32 179.50v-1.00M376.32 10.20v1.00M378.77 179.50v-2.00M378.77 10.20v2.00M394.93 179.50v-1.00M394.93 10.20v1.00M404.38 179.50v-1.00M404.38 10.20v1.00M411.09 179.50v-1.00M411.09 10.20v1.00M416.29 179.50v-1.00M416.29 10.20v1.00M420.54 179.50v-1.00M420.54 10.20v1.00M424.14 179.50v-1.00M424.14 10.20v1.00M427.25 179.50v-1.00M427.25 10.20v1.00M429.99 179.50v-1.00M429.99 10.20v1.00M432.45 179.50v-2.00M432.45 10.20v2.00M448.61 179.50v-1.00M448.61 10.20v1.00M458.06 179.50v-1.00M458.06 10.20v1.00M464.77 179.50v-1.00M464.77 10.20v1.00M469.97 179.50v-1.00M469.97 10.20v1.00M474.22 179.50v-1.00M474.22 10.20v1.00M477.81 179.50v-1.00M477.81 10.20v1.00M480.92 179.50v-1.00M480.92 10.20v1.00M483.67 179.50v-1.00M483.67 10.20v1.00M486.12 179.50v-2.00M486.12 10.20v2.00M502.28 179.50v-1.00M502.28 10.20v1.00M511.73 179.50v-1.00M511.73 10.20v1.00M518.44 179.50v-1.00M518.44 10.20v1.00M523.64 179.50v-1.00M523.64 10.20v1.00M527.89 179.50v-1.00M527.89 10.20v1.00M531.49 179.50v-1.00M531.49 10.20v1.00M534.60 179.50v-1.00M534.60 10.20v1.00M537.34 179.50v-1.00M537.34 10.20v1.00M325.10 10.20h2M539.80 10.20h-2M325.10 66.63h2M539.80 66.63h-2M325.10 123.07h2M539.80 123.07h-2M325.10 179.50h2M539.80 179.50h-2" stroke="#626262" stroke-width="0.6" fill="none"/>
<rect x="325.10" y="10.20" width="214.70" height="169.30" fill="none" stroke="#626262" stroke-width="0.75"/>
<text x="322.90" y="12.60" text-anchor="end" class="tk">0</text>
<text x="322.90" y="69.03" text-anchor="end" class="tk">−50</text>
<text x="322.90" y="125.47" text-anchor="end" class="tk">−100</text>
<text x="322.90" y="181.90" text-anchor="end" class="tk">−150</text>
<text x="325.10" y="190.25" text-anchor="middle" class="tk">10<tspan dy="-2.9" font-size="5.2">−1</tspan></text>
<text x="378.77" y="190.25" text-anchor="middle" class="tk">10<tspan dy="-2.9" font-size="5.2">0</tspan></text>
<text x="432.45" y="190.25" text-anchor="middle" class="tk">10<tspan dy="-2.9" font-size="5.2">1</tspan></text>
<text x="486.12" y="190.25" text-anchor="middle" class="tk">10<tspan dy="-2.9" font-size="5.2">2</tspan></text>
<text x="539.80" y="190.25" text-anchor="middle" class="tk">10<tspan dy="-2.9" font-size="5.2">3</tspan></text>
<text x="432.45" y="199.50" text-anchor="middle" class="lb">Frequency(Hz)</text>
<text transform="translate(305.90 94.85) rotate(-90)" text-anchor="middle" class="lb">PSD(dB)</text>
<text x="427.45" y="221.80" text-anchor="middle" class="cap">(<tspan font-weight="bold">b</tspan>)</text>
<rect x="468.10" y="15.30" width="66.70" height="20.60" fill="#fff" stroke="#6a6a6a" stroke-width="0.6"/>
<path d="M470.90 21.48h19" stroke="#0a70c0" stroke-width="0.8"/>
<path d="M470.90 30.44h19" stroke="#50c896" stroke-width="0.8"/>
<text x="491.80" y="24.28" class="lg">Zero-pole</text>
<text x="491.80" y="33.24" class="lg">New method</text>
<clipPath id="c3"><rect x="178.50" y="240.70" width="214.90" height="169.50"/></clipPath>
<path d="M194.67 240.70V410.20M204.13 240.70V410.20M210.85 240.70V410.20M216.05 240.70V410.20M220.31 240.70V410.20M223.90 240.70V410.20M227.02 240.70V410.20M229.77 240.70V410.20M248.40 240.70V410.20M257.86 240.70V410.20M264.57 240.70V410.20M269.78 240.70V410.20M274.03 240.70V410.20M277.63 240.70V410.20M280.74 240.70V410.20M283.49 240.70V410.20M302.12 240.70V410.20M311.58 240.70V410.20M318.30 240.70V410.20M323.50 240.70V410.20M327.76 240.70V410.20M331.35 240.70V410.20M334.47 240.70V410.20M337.22 240.70V410.20M355.85 240.70V410.20M365.31 240.70V410.20M372.02 240.70V410.20M377.23 240.70V410.20M381.48 240.70V410.20M385.08 240.70V410.20M388.19 240.70V410.20M390.94 240.70V410.20" stroke="#e7e7e7" stroke-width="0.55" fill="none"/>
<path d="M232.22 240.70V410.20M285.95 240.70V410.20M339.67 240.70V410.20M178.50 297.20H393.40M178.50 353.70H393.40" stroke="#dcdcdc" stroke-width="0.6" fill="none"/>
<polyline clip-path="url(#c3)" fill="none" stroke="#0a70c0" stroke-width="0.85" stroke-linejoin="round" points="178.5,317.3 188.0,313.1 194.7,316.7 199.9,315.1 204.1,316.0 207.7,316.7 210.8,333.8 213.6,316.3 216.1,319.8 218.3,322.6 220.3,320.9 222.2,320.8 223.9,319.8 225.5,318.2 227.0,322.0 228.4,321.9 229.8,322.2 231.0,320.6 232.2,321.5 233.4,330.8 234.4,329.4 235.5,328.2 236.5,332.1 237.4,325.2 238.3,328.1 239.2,329.2 240.1,328.8 240.9,326.3 241.7,324.9 242.5,324.2 243.2,325.0 243.9,321.8 244.6,318.8 245.3,319.0 245.9,321.4 246.6,326.3 247.2,325.0 247.8,322.6 248.4,321.4 249.0,329.7 249.5,333.8 250.1,334.4 250.6,337.0 251.1,331.3 251.7,333.0 252.2,333.9 252.7,328.4 253.1,332.5 253.6,327.7 254.1,333.1 254.5,331.5 255.0,330.8 255.4,335.7 255.8,332.1 256.2,337.7 256.7,334.2 257.1,330.6 257.5,344.1 257.9,329.7 258.2,327.5 258.6,330.5 259.0,323.1 259.4,322.3 259.7,334.6 260.1,327.1 260.4,324.5 260.8,336.2 261.1,325.5 261.5,327.4 261.8,329.7 262.1,328.1 262.4,335.7 262.8,338.8 263.1,333.2 263.4,338.8 263.7,326.5 264.0,330.4 264.3,343.0 264.6,338.7 264.9,336.6 265.1,342.2 265.4,326.8 265.7,326.7 266.0,332.2 266.3,341.5 266.5,335.6 266.8,339.1 267.1,328.6 267.3,325.3 267.6,331.9 267.8,336.0 268.1,328.4 268.3,337.2 268.6,337.9 268.8,335.5 269.1,335.3 269.3,327.0 269.5,325.6 269.8,336.0 270.0,323.1 270.2,324.7 270.5,333.6 270.7,349.7 270.9,343.6 271.1,335.6 271.4,332.1 271.6,328.4 271.8,331.8 272.0,329.4 272.2,331.6 272.4,342.8 272.6,340.9 272.8,335.1 273.0,350.4 273.2,342.0 273.4,337.6 273.6,331.7 273.8,336.6 274.0,327.2 274.2,322.1 274.4,325.4 274.6,336.0 274.8,325.5 275.0,328.4 275.2,336.4 275.4,331.5 275.5,332.3 275.7,328.6 275.9,323.7 276.1,326.6 276.3,330.8 276.4,332.0 276.6,334.5 276.8,326.4 277.0,329.8 277.1,341.2 277.3,333.5 277.5,330.0 277.6,337.2 277.8,327.8 278.0,326.9 278.1,342.6 278.3,331.9 278.4,330.4 278.6,333.4 278.8,342.8 278.9,327.0 279.1,330.5 279.2,341.7 279.4,335.6 279.5,341.5 279.7,331.0 279.9,342.8 280.0,334.5 280.2,330.0 280.3,328.0 280.5,327.1 280.6,327.4 280.7,333.8 280.9,351.5 281.0,331.0 281.2,327.8 281.3,332.0 281.5,333.6 281.6,329.6 281.7,345.7 281.9,335.0 282.0,327.9 282.2,329.2 282.3,334.5 282.4,341.4 282.6,337.0 282.7,331.3 282.8,346.5 283.0,342.2 283.1,339.5 283.2,337.4 283.4,328.8 283.5,330.4 283.6,337.2 283.7,332.8 283.9,330.2 284.0,333.6 284.1,337.6 284.3,331.7 284.4,337.0 284.5,334.5 284.6,329.6 284.8,341.1 284.9,348.3 285.0,335.0 285.1,331.5 285.2,334.4 285.4,337.7 285.5,340.0 285.6,330.1 285.7,330.7 285.8,340.0 285.9,338.3 286.1,339.0 286.2,346.6 286.3,336.2 286.4,349.3 286.5,332.5 286.6,330.5 286.8,337.2 286.9,344.0 287.0,333.6 287.1,330.9 287.2,333.4 287.3,340.4 287.4,338.0 287.5,335.8 287.6,341.3 287.7,332.3 287.9,330.8 288.0,336.2 288.1,336.5 288.2,335.9 288.3,332.4 288.4,337.7 288.5,335.5 288.6,332.1 288.7,334.9 288.8,341.1 288.9,338.3 289.0,324.7 289.1,325.6 289.2,338.1 289.3,335.4 289.4,330.6 289.5,332.3 289.6,328.6 289.7,331.7 289.8,335.8 289.9,335.3 290.0,340.5 290.1,336.0 290.4,342.2 290.5,336.2 290.6,331.9 290.7,352.7 290.8,334.7 290.9,341.4 291.0,337.9 291.1,340.6 291.2,342.5 291.2,336.1 291.3,332.3 291.4,332.4 291.5,328.1 291.6,345.1 291.7,334.5 291.9,341.4 292.0,346.2 292.1,336.8 292.2,332.7 292.3,331.7 292.3,336.1 292.4,337.3 292.5,344.0 292.6,349.3 292.8,328.3 292.9,328.8 293.0,331.6 293.0,339.3 293.1,343.7 293.4,328.3 293.5,329.4 293.5,329.1 293.6,328.9 293.7,337.7 293.8,342.2 293.9,332.2 294.0,334.0 294.0,332.0 294.1,327.1 294.3,335.2 294.4,340.5 294.5,333.9 294.5,344.5 294.6,336.2 294.7,331.1 294.9,337.4 294.9,342.4 295.1,333.8 295.2,336.2 295.3,337.1 295.3,337.7 295.4,335.8 295.5,336.4 295.6,337.8 295.6,354.8 295.8,338.2 295.9,338.3 295.9,334.4 296.0,340.0 296.1,329.6 296.2,328.9 296.3,333.7 296.4,346.4 296.7,331.2 296.8,329.7 296.8,337.1 297.0,329.4 297.1,324.3 297.3,341.6 297.3,338.9 297.4,342.7 297.6,340.7 297.6,333.0 297.7,337.5 297.8,328.0 297.9,334.5 298.1,337.1 298.2,329.8 298.3,329.5 298.3,343.2 298.5,328.3 298.5,332.4 298.7,322.9 298.7,327.8 298.8,345.6 299.0,325.4 299.1,330.4 299.1,334.0 299.3,339.6 299.3,333.5 299.4,333.9 299.5,348.9 299.7,333.4 299.7,332.8 299.8,342.6 300.0,339.4 300.1,334.4 300.1,330.3 300.2,333.3 300.3,337.9 300.5,335.6 300.6,342.2 300.6,343.7 300.9,327.9 300.9,331.3 301.0,339.1 301.2,329.6 301.2,331.2 301.4,360.1 301.5,341.2 301.5,333.4 301.7,343.9 301.8,338.0 301.8,329.4 301.9,341.6 302.1,334.3 302.1,340.5 302.2,332.0 302.4,347.8 302.4,335.9 302.5,335.2 302.6,344.7 302.7,342.5 302.8,335.7 302.8,342.1 302.9,332.9 303.0,333.5 303.0,324.8 303.1,323.8 303.2,346.5 303.3,333.9 303.3,335.0 303.4,341.3 303.5,331.5 303.6,336.9 303.6,332.2 303.7,330.2 303.8,336.6 303.9,332.4 303.9,333.7 304.0,342.6 304.2,332.7 304.2,329.1 304.3,342.0 304.5,336.0 304.5,331.3 304.6,329.2 304.8,346.6 304.8,336.3 304.9,341.8 305.0,331.3 305.1,339.7 305.1,335.6 305.3,333.7 305.4,354.3 305.4,343.3 305.5,332.4 305.7,335.9 305.7,336.5 305.8,331.2 305.9,344.5 306.0,332.5 306.0,339.8 306.1,342.5 306.3,335.5 306.3,333.9 306.4,327.6 306.5,336.6 306.6,333.2 306.6,330.8 306.7,326.0 306.8,342.2 306.9,335.2 306.9,338.9 307.0,347.6 307.1,331.7 307.2,339.1 307.2,332.8 307.3,346.0 307.5,329.7 307.5,335.4 307.7,331.6 307.8,348.8 307.8,355.8 308.1,334.5 308.1,329.4 308.3,352.0 308.4,340.1 308.4,335.0 308.5,331.8 308.5,356.4 308.7,338.6 308.7,337.1 308.9,333.5 309.0,347.0 309.0,338.6 309.0,330.8 309.2,349.0 309.3,342.7 309.3,334.1 309.5,340.0 309.6,330.2 309.6,332.9 309.6,341.4 309.8,351.0 309.9,331.3 309.9,329.9 310.0,329.2 310.1,343.4 310.2,332.9 310.2,338.4 310.3,340.2 310.5,326.3 310.5,332.2 310.5,352.9 310.8,332.9 310.8,336.5 310.9,333.6 311.1,343.6 311.1,347.1 311.3,330.6 311.4,347.3 311.4,349.4 311.5,335.3 311.7,357.9 311.7,339.7 311.8,332.8 312.0,339.7 312.0,362.1 312.1,332.0 312.3,334.2 312.3,332.4 312.4,344.2 312.5,328.9 312.6,332.7 312.6,338.5 312.7,350.2 312.8,337.3 312.9,347.9 312.9,343.0 313.0,328.4 313.2,336.8 313.2,340.3 313.3,349.7 313.5,334.3 313.5,337.0 313.5,330.5 313.6,348.7 313.7,329.9 313.8,333.4 313.8,338.3 313.9,329.9 314.0,342.6 314.1,338.4 314.1,346.2 314.3,326.9 314.4,349.3 314.4,338.8 314.6,344.5 314.6,330.3 314.7,336.6 314.7,357.7 314.8,330.4 315.0,336.9 315.0,335.8 315.2,349.0 315.3,337.4 315.3,338.9 315.4,331.8 315.5,366.9 315.6,347.2 315.6,339.2 315.7,343.3 315.9,332.6 315.9,339.6 316.0,328.5 316.1,339.8 316.2,334.6 316.2,342.6 316.3,343.0 316.4,329.2 316.5,330.3 316.5,337.9 316.6,331.2 316.7,351.0 316.8,334.3 316.8,336.5 316.9,332.7 317.0,343.1 317.1,339.6 317.1,334.9 317.2,329.4 317.3,349.5 317.4,332.8 317.4,338.8 317.4,333.5 317.6,347.1 317.7,333.5 317.7,330.5 317.8,342.0 318.0,341.0 318.0,336.4 318.0,333.7 318.2,354.5 318.3,336.6 318.3,341.5 318.5,337.8 318.5,354.2 318.6,341.0 318.6,345.9 318.7,336.2 318.8,353.4 318.9,341.3 318.9,342.9 318.9,349.9 319.2,332.8 319.2,334.5 319.2,341.5 319.2,349.7 319.4,330.7 319.5,333.7 319.5,333.6 319.7,345.3 319.8,331.8 319.8,335.9 319.8,337.0 319.9,359.1 320.0,331.9 320.1,335.2 320.1,341.3 320.2,352.5 320.3,334.1 320.4,343.6 320.4,353.2 320.7,331.8 320.7,331.2 320.8,346.5 321.0,341.0 321.0,341.3 321.0,329.6 321.1,345.8 321.3,331.8 321.3,331.3 321.5,351.9 321.6,340.3 321.6,338.0 321.8,332.3 321.8,347.8 321.9,340.1 321.9,333.6 322.0,331.7 322.1,351.4 322.2,339.8 322.2,336.1 322.3,350.9 322.4,329.7 322.5,344.7 322.5,347.0 322.6,332.6 322.7,353.7 322.8,344.0 322.8,339.0 323.0,333.3 323.0,352.3 323.1,334.3 323.1,334.9 323.1,329.2 323.4,352.8 323.4,332.8 323.6,344.7 323.7,334.5 323.7,336.0 323.8,354.4 323.9,329.6 324.0,341.9 324.0,348.3 324.2,356.4 324.3,332.3 324.3,338.8 324.5,331.0 324.6,373.4 324.6,348.5 324.6,343.8 324.6,348.4 324.8,330.8 324.9,331.7 324.9,340.7 324.9,356.4 325.2,331.9 325.2,331.1 325.3,344.3 325.5,340.9 325.5,333.2 325.6,347.0 325.8,331.3 325.8,330.6 326.0,351.4 326.1,338.8 326.1,338.7 326.2,357.2 326.3,330.1 326.4,335.8 326.4,339.2 326.5,356.6 326.7,332.0 326.7,333.9 326.7,334.5 326.8,345.7 326.9,333.8 327.0,337.0 327.0,341.2 327.1,351.4 327.1,336.1 327.3,336.4 327.3,333.9 327.5,349.7 327.6,332.4 327.6,332.6 327.6,339.0 327.8,343.8 327.8,329.0 327.9,330.5 327.9,339.1 327.9,334.0 328.2,352.6 328.2,340.4 328.2,334.9 328.3,363.2 328.4,334.3 328.5,343.2 328.5,334.0 328.6,359.2 328.7,331.6 328.8,356.4 328.8,341.1 328.9,332.8 329.1,348.1 329.1,345.3 329.2,331.3 329.4,380.0 329.4,342.9 329.4,335.2 329.5,348.5 329.6,331.6 329.7,344.2 329.7,339.3 329.9,349.9 330.0,330.8 330.0,335.9 330.0,348.7 330.1,328.9 330.3,333.2 330.3,333.9 330.4,362.7 330.5,331.6 330.6,337.6 330.6,344.2 330.7,361.9 330.9,334.5 330.9,337.5 330.9,344.1 330.9,332.6 331.0,356.0 331.2,340.1 331.2,340.1 331.3,360.5 331.4,330.1 331.5,333.5 331.5,335.1 331.6,356.0 331.6,333.8 331.8,334.1 331.8,337.2 331.9,362.3 332.0,331.3 332.1,343.1 332.1,349.8 332.2,373.1 332.2,334.2 332.4,347.2 332.4,343.0 332.5,332.0 332.6,357.4 332.7,338.7 332.7,352.0 332.9,364.4 332.9,327.8 333.0,341.3 333.0,336.6 333.2,333.8 333.3,353.0 333.3,338.1 333.3,336.2 333.4,352.4 333.4,331.7 333.6,336.1 333.6,331.7 333.8,355.4 333.9,338.6 333.9,348.3 334.0,331.9 334.2,355.6 334.2,334.8 334.3,333.7 334.5,350.2 334.5,346.3 334.5,351.6 334.7,331.8 334.8,334.8 334.8,336.8 334.9,359.7 335.0,333.0 335.1,338.0 335.1,340.7 335.2,333.9 335.2,361.3 335.4,352.2 335.4,337.9 335.6,335.5 335.6,346.4 335.7,343.6 335.7,343.2 335.9,330.8 335.9,351.3 336.0,345.3 336.0,339.7 336.2,331.7 336.3,355.9 336.3,349.5 336.3,344.4 336.4,362.5 336.5,331.8 336.6,335.4 336.6,335.3 336.6,332.2 336.7,351.1 336.9,337.4 336.9,348.5 337.0,331.3 337.1,353.7 337.2,339.4 337.2,340.7 337.4,356.4 337.5,332.1 337.5,334.9 337.7,333.7 337.7,349.0 337.8,340.7 337.8,347.4 338.0,358.2 338.0,328.5 338.1,334.1 338.1,330.2 338.3,327.8 338.4,363.8 338.4,338.6 338.4,336.8 338.6,358.6 338.7,329.0 338.7,341.7 338.7,345.5 338.8,354.8 338.9,331.0 339.0,333.8 339.0,341.7 339.2,366.6 339.3,330.1 339.3,341.6 339.3,329.5 339.3,352.2 339.6,320.4 339.6,340.6 339.7,316.4 339.8,365.4 339.9,325.2 339.9,337.0 339.9,326.0 340.0,353.1 340.2,334.1 340.2,350.4 340.2,365.9 340.4,330.8 340.5,361.6 340.5,348.7 340.5,354.8 340.6,331.8 340.8,340.5 340.8,348.5 340.8,329.1 341.0,358.0 341.1,341.6 341.1,352.3 341.1,362.7 341.3,332.1 341.4,344.8 341.4,335.0 341.5,331.9 341.7,353.5 341.7,344.6 341.7,338.6 341.8,333.2 341.8,353.5 342.0,340.3 342.0,356.2 342.2,332.7 342.2,357.4 342.3,347.9 342.3,335.4 342.4,350.6 342.6,331.4 342.6,333.5 342.6,335.9 342.8,328.6 342.9,363.5 342.9,335.3 342.9,350.7 342.9,356.6 343.1,332.5 343.2,342.3 343.2,339.6 343.3,332.8 343.4,350.7 343.5,335.3 343.5,341.4 343.5,371.0 343.6,330.9 343.8,355.5 343.8,355.3 344.0,356.1 344.1,332.6 344.1,338.4 344.1,337.4 344.1,356.0 344.2,334.4 344.4,341.1 344.4,335.6 344.4,352.0 344.7,331.8 344.7,336.0 344.7,343.5 344.9,355.6 344.9,330.8 345.0,336.3 345.0,339.0 345.0,352.2 345.2,331.3 345.3,346.8 345.3,340.4 345.4,330.1 345.6,364.2 345.6,337.8 345.6,338.0 345.7,366.8 345.7,331.6 345.9,341.1 345.9,339.6 345.9,330.2 346.1,358.0 346.2,347.2 346.2,338.5 346.2,334.2 346.4,360.2 346.5,342.3 346.5,337.6 346.7,358.4 346.8,330.4 346.8,337.6 346.8,341.6 346.8,330.6 347.0,361.1 347.1,334.2 347.1,337.7 347.2,355.0 347.4,332.3 347.4,339.5 347.4,337.2 347.6,331.0 347.7,361.3 347.7,355.2 347.7,340.8 347.9,366.5 348.0,334.5 348.0,343.1 348.0,337.1 348.0,331.5 348.2,354.6 348.3,340.5 348.3,347.5 348.4,330.9 348.6,350.4 348.6,337.0 348.6,334.7 348.6,332.0 348.7,378.1 348.9,346.6 348.9,344.8 349.0,355.5 349.0,334.3 349.2,334.9 349.2,339.2 349.4,330.6 349.4,363.1 349.5,342.7 349.5,344.8 349.7,331.9 349.7,355.7 349.8,339.3 349.8,335.2 349.9,352.8 350.0,331.5 350.1,337.7 350.1,350.0 350.3,369.6 350.3,334.1 350.4,343.8 350.4,342.0 350.4,350.4 350.6,331.7 350.7,349.0 350.7,347.5 350.7,332.6 350.8,370.7 351.0,338.0 351.0,336.6 351.1,361.8 351.2,330.1 351.3,333.5 351.3,349.5 351.4,355.2 351.6,330.9 351.6,332.3 351.6,335.6 351.8,360.7 351.8,333.7 351.9,346.8 351.9,343.4 351.9,353.9 352.0,331.5 352.2,334.4 352.2,338.4 352.3,366.9 352.4,331.3 352.5,340.2 352.5,335.5 352.5,369.9 352.6,333.4 352.8,339.6 352.8,335.7 352.8,358.3 353.0,334.2 353.1,346.4 353.1,344.6 353.3,331.7 353.4,361.3 353.4,337.8 353.4,334.8 353.5,329.1 353.5,355.4 353.7,339.3 353.7,343.0 353.8,358.2 353.9,331.6 354.0,342.6 354.0,346.3 354.0,360.7 354.2,331.9 354.3,335.4 354.3,335.3 354.3,356.4 354.4,330.4 354.6,345.8 354.6,345.9 354.7,330.8 354.7,363.0 354.9,343.8 354.9,347.0 355.0,354.0 355.1,330.1 355.2,342.3 355.2,344.4 355.3,351.5 355.5,326.7 355.5,337.8 355.5,326.2 355.5,348.7 355.8,309.8 355.8,336.1 355.8,305.1 356.0,358.1 356.1,321.5 356.1,334.6 356.1,322.1 356.3,352.5 356.4,339.2 356.4,334.9 356.4,355.9 356.7,332.6 356.7,335.3 356.7,340.7 356.8,356.2 357.0,333.2 357.0,347.0 357.0,341.6 357.2,330.1 357.3,354.4 357.3,347.7 357.3,344.7 357.4,361.6 357.5,332.5 357.6,338.4 357.6,352.9 357.7,330.6 357.9,370.2 357.9,338.6 357.9,339.5 357.9,331.1 358.0,356.2 358.2,342.0 358.2,339.8 358.3,332.0 358.4,368.2 358.5,344.2 358.5,354.0 358.5,329.9 358.8,344.3 358.8,338.1 358.8,356.4 359.1,331.7 359.1,339.0 359.1,339.9 359.1,361.6 359.2,331.9 359.4,347.5 359.4,350.8 359.4,365.8 359.7,332.6 359.7,345.4 359.8,331.1 360.0,365.5 360.0,336.5 360.0,336.1 360.0,332.2 360.2,357.7 360.3,340.5 360.3,359.3 360.5,330.7 360.6,340.0 360.6,341.7 360.7,356.0 360.8,330.0 360.9,336.5 360.9,340.6 361.0,372.0 361.2,331.0 361.2,339.3 361.2,339.2 361.3,358.2 361.4,329.0 361.5,354.0 361.5,338.8 361.6,329.5 361.7,363.3 361.8,342.5 361.8,331.5 362.0,330.3 362.1,357.8 362.1,334.1 362.1,345.5 362.1,368.4 362.3,332.0 362.4,338.6 362.4,341.1 362.6,332.1 362.7,357.4 362.7,333.8 362.7,345.5 362.7,358.0 362.9,330.9 363.0,337.8 363.0,338.5 363.1,357.3 363.2,332.2 363.3,352.4 363.3,335.8 363.3,332.5 363.4,356.2 363.6,345.0 363.6,351.1 363.7,362.2 363.9,332.2 363.9,334.7 363.9,332.7 363.9,364.1 364.1,331.1 364.2,336.4 364.2,337.1 364.2,329.8 364.4,366.0 364.5,340.1 364.5,340.7 364.6,373.3 364.6,331.9 364.8,341.3 364.8,333.9 364.9,358.0 365.1,325.5 365.1,335.7 365.1,325.3 365.3,317.0 365.4,360.1 365.4,321.2 365.4,333.4 365.4,321.5 365.7,353.9 365.7,330.9 365.7,331.6 365.7,331.1 365.9,357.2 366.0,338.9 366.0,342.6 366.1,332.3 366.2,354.9 366.3,338.0 366.3,345.1 366.3,365.4 366.5,334.2 366.6,341.4 366.6,335.0 366.7,354.6 366.8,329.1 366.9,340.8 366.9,344.6 367.1,331.0 367.2,364.1 367.2,335.0 367.2,334.1 367.2,351.7 367.5,331.0 367.5,344.2 367.5,331.9 367.5,327.8 367.6,366.9 367.8,358.9 367.8,341.1 367.8,329.2 368.0,363.5 368.1,341.7 368.1,345.9 368.2,362.0 368.2,330.4 368.4,346.7 368.4,352.8 368.6,378.6 368.7,331.7 368.7,340.9 368.7,337.4 368.8,329.3 368.9,370.9 369.0,339.8 369.0,337.7 369.1,330.4 369.1,358.9 369.3,339.9 369.3,340.2 369.4,368.4 369.4,330.4 369.6,335.3 369.6,333.5 369.7,332.1 369.8,363.8 369.9,341.5 369.9,355.1 370.0,329.6 370.1,381.7 370.2,340.0 370.2,339.9 370.3,329.9 370.5,381.7 370.5,335.1 370.5,341.8 370.5,376.4 370.8,332.1 370.8,337.6 371.0,330.1 371.1,361.9 371.1,339.9 371.1,347.8 371.1,371.8 371.4,332.5 371.4,345.1 371.4,338.3 371.6,362.9 371.7,327.5 371.7,345.0 371.7,327.3 371.8,380.4 372.0,314.0 372.0,337.3 372.0,313.6 372.0,311.9 372.1,375.8 372.3,339.7 372.3,325.9 372.5,366.7 372.6,342.8 372.6,336.7 372.7,368.1 372.7,328.9 372.9,348.8 372.9,352.8 373.1,364.5 373.1,331.4 373.2,339.8 373.2,343.0 373.2,354.4 373.4,331.1 373.5,346.4 373.5,350.7 373.5,364.8 373.6,331.4 373.8,347.9 373.8,353.2 374.0,331.7 374.1,368.4 374.1,342.8 374.1,340.9 374.3,376.9 374.3,331.9 374.4,341.9 374.4,338.8 374.5,330.5 374.7,356.9 374.7,343.2 374.7,344.2 374.8,332.4 374.8,366.8 375.0,339.6 375.0,349.6 375.0,370.4 375.2,331.6 375.3,343.9 375.3,345.0 375.4,330.6 375.5,372.6 375.6,346.4 375.6,338.1 375.7,369.7 375.8,330.3 375.9,338.3 375.9,335.0 376.0,331.5 376.1,361.0 376.2,332.7 376.2,335.4 376.4,331.2 376.5,364.8 376.5,347.9 376.5,342.3 376.6,329.9 376.8,350.3 376.8,341.2 376.8,331.1 376.8,358.3 377.1,319.2 377.1,350.4 377.1,356.9 377.2,311.9 377.2,330.9"/>
<polyline clip-path="url(#c3)" fill="none" stroke="#50c896" stroke-width="0.85" stroke-linejoin="round" points="178.5,336.3 188.0,339.9 194.7,344.8 199.9,343.5 204.1,335.1 207.7,342.4 210.8,340.7 213.6,344.7 216.1,337.5 218.3,343.0 220.3,340.1 222.2,349.4 223.9,354.3 225.5,355.0 227.0,352.3 228.4,351.3 229.8,349.1 231.0,357.8 232.2,345.5 233.4,344.3 234.4,348.7 235.5,348.8 236.5,339.0 237.4,339.8 238.3,349.4 239.2,356.9 240.1,355.5 240.9,350.1 241.7,345.8 242.5,345.4 243.2,345.2 243.9,341.4 244.6,349.2 245.3,346.3 245.9,347.6 246.6,388.0 247.2,357.4 247.8,356.0 248.4,347.5 249.0,353.4 249.5,352.1 250.1,343.4 250.6,342.3 251.1,347.7 251.7,358.0 252.2,347.8 252.7,348.7 253.1,351.0 253.6,346.4 254.1,350.9 254.5,349.7 255.0,346.1 255.4,348.7 255.8,353.7 256.2,360.1 256.7,355.6 257.1,348.6 257.5,345.1 257.9,345.8 258.2,348.0 258.6,350.3 259.0,355.3 259.4,356.9 259.7,352.4 260.1,348.8 260.4,349.7 260.8,363.7 261.1,357.4 261.5,351.8 261.8,345.0 262.1,351.1 262.4,366.6 262.8,357.7 263.1,348.1 263.4,346.2 263.7,353.2 264.0,352.4 264.3,351.6 264.6,357.0 264.9,364.7 265.1,356.6 265.4,352.5 265.7,345.4 266.0,346.9 266.3,347.9 266.5,354.4 266.8,347.0 267.1,344.7 267.3,344.2 267.6,345.9 267.8,353.7 268.1,363.5 268.3,351.9 268.6,343.1 268.8,342.1 269.1,352.4 269.3,354.9 269.5,362.3 269.8,366.0 270.0,347.6 270.2,349.9 270.5,350.0 270.7,353.6 270.9,356.3 271.1,347.0 271.4,346.8 271.6,343.6 271.8,343.8 272.0,348.2 272.2,349.4 272.4,351.7 272.6,343.0 272.8,340.9 273.0,346.1 273.2,346.6 273.4,352.5 273.6,353.3 273.8,344.9 274.0,345.5 274.2,355.2 274.4,375.3 274.6,351.0 274.8,346.2 275.0,353.8 275.2,346.8 275.4,341.2 275.5,338.7 275.7,344.9 275.9,349.2 276.1,349.9 276.3,351.1 276.4,348.0 276.6,347.5 276.8,366.1 277.0,351.9 277.1,349.1 277.3,343.7 277.5,338.5 277.6,342.6 277.8,342.6 278.0,346.8 278.1,349.5 278.3,354.0 278.4,348.2 278.6,348.0 278.8,347.1 278.9,344.3 279.1,345.4 279.2,347.9 279.4,374.2 279.5,375.8 279.7,347.0 279.9,354.7 280.0,352.5 280.2,363.8 280.3,350.5 280.5,345.2 280.6,336.9 280.7,339.8 280.9,365.2 281.0,349.3 281.2,352.9 281.3,350.1 281.5,348.0 281.6,347.7 281.7,346.3 281.9,361.3 282.0,344.2 282.2,341.5 282.3,344.2 282.4,345.4 282.6,349.2 282.7,359.5 282.8,351.6 283.0,349.2 283.1,350.1 283.2,364.5 283.4,352.1 283.5,352.7 283.6,348.6 283.7,353.6 283.9,345.6 284.0,344.6 284.1,347.5 284.3,351.7 284.4,344.9 284.5,346.3 284.6,351.7 284.8,348.3 284.9,356.6 285.0,346.7 285.1,348.9 285.2,346.3 285.4,354.4 285.5,349.7 285.6,346.2 285.7,342.1 285.8,347.7 285.9,347.3 286.1,343.9 286.2,346.7 286.3,342.4 286.4,345.8 286.5,342.5 286.6,343.6 286.8,347.6 286.9,345.2 287.0,346.5 287.1,346.9 287.2,345.6 287.3,352.7 287.4,348.3 287.5,351.7 287.6,363.4 287.7,357.5 287.9,351.2 288.0,352.6 288.1,347.3 288.2,344.2 288.3,345.8 288.4,356.3 288.5,348.6 288.6,342.4 288.7,344.6 288.8,347.9 288.9,350.7 289.0,355.9 289.1,337.6 289.2,334.0 289.3,338.2 289.4,344.4 289.5,346.1 289.6,339.0 289.7,341.1 289.8,344.5 289.9,351.6 290.0,342.1 290.1,342.9 290.3,353.2 290.4,352.7 290.5,342.3 290.6,340.6 290.7,338.5 290.8,340.7 290.9,341.1 291.0,341.9 291.1,345.7 291.2,347.3 291.2,357.1 291.3,345.4 291.4,344.4 291.5,344.6 291.6,352.3 291.7,348.9 291.9,349.1 292.0,341.7 292.1,338.1 292.2,339.1 292.3,340.0 292.3,343.7 292.4,344.5 292.5,339.3 292.7,344.2 292.8,342.7 292.9,346.4 293.0,345.5 293.0,342.8 293.1,350.1 293.3,354.7 293.4,345.8 293.5,346.0 293.5,340.7 293.6,340.6 293.7,342.6 294.0,360.1 294.0,350.1 294.2,354.0 294.3,337.9 294.4,334.7 294.5,344.9 294.5,364.4 294.6,355.7 294.9,344.6 294.9,349.2 295.0,357.3 295.1,345.1 295.2,356.0 295.3,338.5 295.4,347.3 295.5,346.4 295.6,342.6 295.6,341.7 295.7,349.3 295.8,347.6 295.9,347.5 295.9,353.4 296.0,347.5 296.1,345.9 296.2,350.8 296.3,341.2 296.3,341.5 296.4,348.7 296.6,352.3 296.7,341.3 296.8,339.6 297.0,356.5 297.1,343.0 297.1,346.5 297.2,342.2 297.3,342.9 297.3,355.6 297.5,356.8 297.6,346.5 297.6,347.4 297.8,339.8 297.8,343.1 297.9,344.8 298.1,358.4 298.2,347.8 298.3,340.5 298.4,337.6 298.5,339.8 298.5,346.9 298.6,354.2 298.7,343.8 298.8,347.3 298.9,349.4 299.0,341.5 299.1,342.9 299.1,342.2 299.3,356.3 299.4,356.0 299.5,345.5 299.6,357.3 299.7,349.9 299.7,350.6 299.8,346.8 299.9,361.4 300.0,348.1 300.1,362.0 300.2,350.3 300.3,347.7 300.4,363.8 300.6,345.9 300.6,348.6 300.9,359.0 300.9,345.7 301.0,344.8 301.2,360.6 301.2,347.5 301.4,345.6 301.5,351.7 301.5,354.1 301.6,379.1 301.8,344.8 301.8,343.9 301.9,350.8 302.1,250.9 302.1,237.3 302.4,352.4 302.4,357.8 302.5,358.9 302.7,346.6 302.8,347.2 302.9,352.7 303.0,344.9 303.0,348.3 303.1,356.4 303.3,353.3 303.3,350.5 303.4,345.9 303.6,352.1 303.6,353.4 303.7,349.2 303.9,359.4 303.9,348.4 304.0,346.5 304.2,358.4 304.2,362.9 304.3,353.3 304.5,361.9 304.5,363.5 304.6,345.2 304.8,356.8 304.8,358.1 304.9,359.9 305.0,353.1 305.1,358.8 305.1,390.2 305.2,350.7 305.4,355.1 305.4,358.0 305.5,346.9 305.7,351.6 305.7,363.3 305.8,351.7 306.0,378.3 306.0,355.4 306.1,361.0 306.2,352.7 306.3,356.0 306.3,350.8 306.4,366.5 306.6,355.1 306.6,353.5 306.8,361.3 306.9,352.6 306.9,349.6 307.2,357.1 307.2,374.6 307.4,349.6 307.5,362.1 307.5,355.4 307.7,350.2 307.7,365.0 307.8,359.3 307.8,353.1 307.9,352.2 308.0,369.3 308.1,358.4 308.1,352.9 308.3,366.9 308.4,357.9 308.4,351.3 308.6,377.2 308.7,365.3 308.7,361.6 308.8,371.4 308.9,359.6 309.0,365.1 309.0,358.0 309.1,356.6 309.3,377.8 309.3,370.2 309.3,364.2 309.4,353.5 309.6,377.5 309.6,369.8 309.6,361.7 309.7,363.8 309.8,353.3 309.9,359.9 309.9,356.0 310.0,354.2 310.1,368.6 310.2,361.0 310.2,366.3 310.4,351.4 310.5,356.6 310.5,353.6 310.7,374.2 310.8,360.0 310.8,357.8 310.9,360.3 311.0,351.9 311.1,357.3 311.1,362.1 311.2,359.4 311.4,366.3 311.4,368.3 311.5,373.4 311.6,350.7 311.7,362.5 311.7,371.3 311.9,357.3 312.0,369.4 312.0,367.3 312.1,379.9 312.2,358.9 312.3,366.6 312.3,366.7 312.4,359.1 312.4,373.0 312.6,368.3 312.6,363.9 312.7,361.9 312.8,370.1 312.9,367.0 312.9,369.4 313.0,369.8 313.2,362.6 313.2,369.6 313.3,359.0 313.5,365.2 313.5,366.6 313.6,371.6 313.6,362.0 313.8,366.4 313.8,364.2 313.9,377.4 314.0,357.9 314.1,366.7 314.1,363.6 314.2,357.5 314.4,374.3 314.4,360.7 314.5,358.5 314.6,382.5 314.7,359.9 314.7,356.3 314.8,378.1 315.0,363.1 315.0,360.5 315.1,380.1 315.2,359.5 315.3,366.4 315.3,361.5 315.4,376.3 315.6,357.7 315.6,357.3 315.8,372.7 315.9,370.1 315.9,368.0 316.0,361.3 316.2,372.5 316.2,364.7 316.2,367.9 316.4,372.2 316.4,361.4 316.5,365.7 316.5,363.0 316.7,355.3 316.8,366.3 316.8,361.3 316.9,356.4 316.9,371.9 317.1,356.7 317.1,364.3 317.2,357.2 317.4,377.4 317.4,368.7 317.4,375.9 317.5,361.9 317.7,370.7 317.7,362.3 317.9,375.5 318.0,372.5 318.0,372.9 318.1,357.6 318.3,362.1 318.3,368.1 318.5,393.4 318.6,358.5 318.6,368.5 318.8,371.8 318.8,355.0 318.9,361.1 318.9,373.5 319.0,361.5 319.2,365.6 319.2,359.3 319.3,375.4 319.4,355.6 319.5,361.2 319.5,366.9 319.6,355.6 319.7,374.8 319.8,355.7 319.8,355.7 319.9,378.6 320.1,371.4 320.1,364.6 320.2,374.9 320.3,359.0 320.4,364.4 320.4,362.1 320.5,353.5 320.6,367.6 320.7,361.8 320.7,359.3 320.7,380.9 321.0,366.7 321.0,362.8 321.2,383.6 321.3,359.1 321.3,367.6 321.5,376.7 321.6,357.2 321.6,361.1 321.8,355.6 321.8,373.5 321.9,364.2 321.9,362.9 322.0,370.3 322.1,356.1 322.2,361.7 322.2,362.5 322.4,383.3 322.5,365.0 322.5,372.0 322.5,381.2 322.6,357.2 322.8,365.0 322.8,370.4 322.9,360.7 323.0,375.3 323.1,369.5 323.1,368.0 323.1,376.4 323.3,357.5 323.4,364.8 323.4,368.9 323.6,376.6 323.7,362.7 323.7,358.6 323.9,385.7 324.0,368.5 324.0,358.9 324.0,354.9 324.2,370.8 324.3,366.9 324.3,359.0 324.3,359.0 324.5,375.1 324.6,365.7 324.6,359.7 324.8,357.8 324.9,371.8 324.9,362.1 324.9,373.5 325.0,380.9 325.2,358.9 325.2,363.8 325.2,360.7 325.4,386.5 325.5,372.7 325.5,364.7 325.5,378.2 325.6,360.4 325.8,372.9 325.8,366.5 326.0,378.7 326.1,359.6 326.1,374.1 326.1,363.8 326.1,359.0 326.3,383.7 326.4,360.3 326.4,358.8 326.5,380.9 326.7,371.1 326.7,382.8 326.9,358.6 327.0,364.2 327.0,375.7 327.0,360.6 327.3,384.5 327.3,370.0 327.3,375.2 327.3,379.6 327.5,360.0 327.6,362.6 327.6,360.6 327.8,360.4 327.8,374.1 327.9,363.9 327.9,360.1 327.9,358.1 328.0,383.1 328.2,368.8 328.2,371.5 328.3,381.3 328.4,359.5 328.5,365.7 328.5,366.6 328.6,358.4 328.8,378.2 328.8,371.1 328.8,365.0 329.0,376.9 329.1,359.5 329.1,358.5 329.2,378.1 329.4,364.6 329.4,371.3 329.5,380.5 329.6,359.3 329.7,380.2 329.7,365.8 329.9,358.4 330.0,370.5 330.0,366.9 330.0,365.7 330.2,361.8 330.3,379.7 330.3,364.7 330.3,369.8 330.4,381.2 330.6,361.1 330.6,362.9 330.7,360.6 330.8,381.4 330.9,366.0 330.9,363.1 331.1,374.7 331.2,358.9 331.2,358.1 331.4,373.5 331.5,367.9 331.5,370.3 331.6,361.7 331.8,376.1 331.8,365.7 331.8,364.8 331.9,391.0 332.0,361.9 332.1,366.3 332.1,361.4 332.2,357.9 332.3,376.4 332.4,362.2 332.4,360.2 332.5,389.8 332.7,360.0 332.7,366.4 332.7,374.9 332.8,359.2 332.9,379.6 333.0,366.3 333.0,369.5 333.1,385.0 333.1,357.6 333.3,374.5 333.3,367.1 333.4,362.7 333.5,393.2 333.6,365.3 333.6,369.2 333.7,377.5 333.9,359.8 333.9,362.3 333.9,371.5 334.0,358.6 334.1,372.2 334.2,369.5 334.2,361.2 334.3,358.9 334.5,389.0 334.5,365.4 334.5,365.7 334.7,388.0 334.7,359.7 334.8,371.9 334.8,363.9 334.9,371.6 335.1,358.5 335.1,362.4 335.1,373.8 335.2,362.2 335.4,386.5 335.4,367.8 335.4,379.0 335.5,357.7 335.6,394.4 335.7,376.6 335.7,365.6 335.8,361.2 335.8,383.9 336.0,372.2 336.0,370.9 336.2,389.4 336.3,359.2 336.3,368.4 336.3,376.8 336.4,360.3 336.6,377.7 336.6,363.3 336.6,361.1 336.8,390.3 336.9,363.7 336.9,363.5 337.1,360.9 337.1,377.4 337.2,371.6 337.2,366.7 337.3,377.7 337.5,361.7 337.5,365.1 337.5,362.3 337.5,360.6 337.7,380.6 337.8,366.9 337.8,371.7 337.9,358.9 338.0,379.1 338.1,361.8 338.1,362.5 338.1,379.0 338.3,358.7 338.4,367.6 338.4,363.9 338.6,360.6 338.7,380.8 338.7,367.4 338.7,370.5 338.8,384.9 338.8,359.2 339.0,368.2 339.0,377.9 339.2,360.2 339.3,379.4 339.3,360.3 339.3,364.0 339.4,380.6 339.6,361.4 339.6,364.6 339.6,367.9 339.7,360.7 339.7,380.5 339.9,361.3 339.9,373.2 340.0,388.2 340.1,362.5 340.2,364.2 340.2,366.0 340.4,381.4 340.5,362.1 340.5,366.9 340.5,364.7 340.5,358.0 340.6,379.8 340.8,372.0 340.8,365.6 340.9,386.4 341.0,362.5 341.1,365.7 341.1,368.9 341.2,360.2 341.2,393.8 341.4,366.0 341.4,367.5 341.5,361.6 341.5,380.9 341.7,366.9 341.7,366.1 341.8,361.6 342.0,389.2 342.0,368.6 342.0,377.1 342.0,387.1 342.2,361.5 342.3,367.0 342.3,362.6 342.5,396.0 342.6,360.4 342.6,361.8 342.8,361.4 342.9,386.2 342.9,373.4 342.9,375.7 343.0,360.7 343.0,385.2 343.2,375.9 343.2,368.0 343.2,360.6 343.3,378.6 343.5,369.2 343.5,370.0 343.5,388.6 343.7,362.2 343.8,368.7 343.8,375.8 343.9,393.4 344.0,356.9 344.1,367.0 344.1,380.4 344.2,388.3 344.3,359.6 344.4,368.6 344.4,373.8 344.5,378.7 344.6,359.5 344.7,373.2 344.7,363.2 344.7,362.2 344.9,383.0 345.0,367.5 345.0,370.2 345.3,383.7 345.3,361.3 345.3,365.3 345.3,361.7 345.4,378.5 345.6,360.7 345.6,363.8 345.6,371.5 345.7,358.2 345.8,390.0 345.9,363.0 345.9,362.6 346.1,362.3 346.1,390.2 346.2,367.3 346.2,364.7 346.3,360.2 346.4,390.8 346.5,365.7 346.5,372.1 346.7,388.6 346.7,360.2 346.8,366.7 346.8,362.9 346.9,359.7 347.1,378.5 347.1,365.8 347.1,375.4 347.2,360.7 347.2,389.8 347.4,373.2 347.4,364.9 347.4,360.9 347.4,382.2 347.7,372.8 347.7,375.9 347.8,378.2 347.9,360.9 348.0,372.2 348.0,368.9 348.0,378.6 348.2,358.8 348.3,373.9 348.3,378.0 348.4,358.3 348.5,379.3 348.6,369.9 348.6,377.2 348.6,360.3 348.8,389.4 348.9,369.0 348.9,370.4 349.1,359.1 349.2,381.0 349.2,362.4 349.2,361.1 349.4,394.9 349.4,360.0 349.5,365.4 349.5,365.0 349.7,395.3 349.7,361.3 349.8,369.2 349.8,375.4 349.8,383.4 349.9,361.0 350.1,364.4 350.1,366.2 350.2,398.2 350.3,360.8 350.4,366.5 350.4,366.2 350.5,396.7 350.7,361.1 350.7,375.3 350.7,368.4 350.8,387.0 350.9,361.1 351.0,365.5 351.0,367.6 351.0,387.2 351.1,360.1 351.3,368.5 351.3,377.9 351.4,389.0 351.5,359.6 351.6,363.8 351.6,364.8 351.6,393.9 351.7,359.5 351.9,378.1 351.9,367.6 352.2,390.8 352.2,360.6 352.2,364.2 352.4,379.6 352.4,357.9 352.5,366.1 352.5,366.4 352.6,359.9 352.6,405.0 352.8,363.4 352.8,364.9 352.9,359.7 353.1,384.5 353.1,373.1 353.1,383.0 353.4,357.2 353.4,362.6 353.4,370.7 353.4,373.8 353.5,360.3 353.7,367.3 353.7,369.2 353.9,359.9 354.0,383.7 354.0,374.3 354.0,369.3 354.2,361.1 354.2,380.2 354.3,367.9 354.3,372.9 354.3,386.3 354.5,359.4 354.6,368.1 354.6,362.9 354.6,393.4 354.9,357.6 354.9,374.3 354.9,368.5 354.9,387.0 355.0,359.1 355.2,364.2 355.2,366.6 355.3,380.1 355.4,360.9 355.5,369.0 355.5,367.8 355.6,361.7 355.8,388.3 355.8,367.5 355.8,364.6 355.8,358.7 356.0,386.2 356.1,371.7 356.1,370.8 356.3,360.1 356.4,383.5 356.4,372.7 356.5,362.0 356.5,394.5 356.7,377.9 356.7,365.9 356.7,383.3 356.8,360.5 357.0,365.5 357.0,362.6 357.0,383.9 357.2,357.3 357.3,382.1 357.3,369.0 357.4,381.0 357.4,360.2 357.6,366.6 357.6,368.8 357.6,380.5 357.9,360.1 357.9,365.0 357.9,364.8 357.9,357.7 358.1,385.1 358.2,369.8 358.2,372.9 358.3,360.3 358.5,384.2 358.5,367.1 358.5,369.4 358.5,383.2 358.7,357.6 358.8,364.6 358.8,366.9 359.1,357.7 359.1,390.6 359.1,375.9 359.3,390.8 359.4,357.8 359.4,372.3 359.4,365.2 359.5,386.3 359.6,358.5 359.7,364.2 359.7,367.8 360.0,357.5 360.0,392.5 360.0,367.9 360.0,360.8 360.0,379.4 360.3,359.2 360.3,369.1 360.3,378.3 360.3,357.6 360.6,397.8 360.6,373.0 360.6,383.5 360.7,388.9 360.7,362.2 360.9,365.1 360.9,378.1 361.0,356.7 361.0,378.3 361.2,374.3 361.2,371.6 361.3,359.3 361.4,387.6 361.5,365.6 361.5,362.9 361.7,357.8 361.8,393.3 361.8,372.1 361.8,370.5 361.8,381.5 362.1,357.4 362.1,369.0 362.1,374.5 362.2,388.1 362.4,357.8 362.4,366.7 362.4,363.8 362.4,359.6 362.6,383.3 362.7,379.3 362.7,359.3 362.7,358.4 362.8,387.1 363.0,365.4 363.0,368.4 363.1,388.6 363.1,358.0 363.3,372.7 363.3,381.8 363.4,358.6 363.6,391.8 363.6,371.7 363.6,367.0 363.7,393.2 363.8,359.4 363.9,373.3 363.9,364.1 364.0,358.5 364.0,385.5 364.2,364.1 364.2,362.7 364.3,386.1 364.4,359.8 364.5,373.5 364.5,372.2 364.7,356.6 364.8,390.5 364.8,371.0 364.8,364.1 364.8,358.7 365.0,388.3 365.1,369.9 365.1,375.8 365.2,391.9 365.4,356.4 365.4,377.0 365.4,373.5 365.4,384.7 365.7,358.8 365.7,368.5 365.7,371.3 365.8,360.1 365.9,396.3 366.0,363.7 366.0,363.5 366.1,383.0 366.2,357.6 366.3,370.2 366.3,363.9 366.4,359.0 366.6,395.2 366.6,371.5 366.6,368.3 366.7,388.0 366.8,358.2 366.9,361.8 366.9,363.3 366.9,360.4 367.2,388.9 367.2,367.5 367.2,370.4 367.3,379.3 367.4,357.6 367.5,372.3 367.5,373.8 367.7,359.5 367.7,381.6 367.8,365.0 367.8,364.5 368.0,355.7 368.1,391.3 368.1,369.0 368.1,364.7 368.1,355.8 368.4,384.5 368.4,378.6 368.4,393.9 368.4,359.0 368.7,364.5 368.7,384.8 368.8,357.6 369.0,364.3 369.0,369.5 369.0,358.3 369.2,402.6 369.3,368.6 369.3,373.3 369.3,386.8 369.4,359.7 369.6,367.4 369.6,371.6 369.7,359.5 369.8,396.4 369.9,366.1 369.9,367.0 370.1,383.9 370.1,359.0 370.2,359.8 370.2,360.5 370.3,385.8 370.3,358.9 370.5,373.6 370.5,364.0 370.5,381.1 370.7,358.6 370.8,365.8 370.8,361.6 370.9,359.3 370.9,385.9 371.1,378.4 371.1,373.3 371.2,398.9 371.4,359.1 371.4,362.9 371.4,360.9 371.5,357.6 371.6,387.9 371.7,373.1 371.7,361.3 371.8,359.3 371.9,380.5 372.0,373.2 372.0,365.4 372.1,355.4 372.2,388.9 372.3,361.3 372.3,367.5 372.5,391.7 372.5,357.2 372.6,372.6 372.6,372.4 372.6,389.5 372.8,359.1 372.9,369.9 372.9,360.1 373.1,359.6 373.2,396.6 373.2,370.5 373.2,362.3 373.4,380.9 373.4,359.1 373.5,368.8 373.5,362.5 373.6,357.9 373.7,385.7 373.8,363.8 373.8,369.9 373.8,359.2 374.0,384.6 374.1,364.3 374.1,362.2 374.2,393.4 374.3,357.2 374.4,371.3 374.4,371.4 374.4,384.0 374.5,356.8 374.7,369.3 374.7,384.2 374.9,358.5 375.0,393.4 375.0,361.9 375.0,363.3 375.1,387.7 375.2,359.3 375.3,369.1 375.3,365.4 375.4,356.7 375.4,389.5 375.6,367.0 375.6,369.6 375.6,357.4 375.8,382.4 375.9,359.8 375.9,367.0 376.1,385.7 376.1,357.8 376.2,371.7 376.2,362.1 376.2,357.1 376.5,387.2 376.5,371.8 376.5,373.7 376.6,397.8 376.7,359.7 376.8,364.5 376.8,362.9 376.8,358.0 377.1,384.4 377.1,370.3 377.1,369.3 377.1,357.3 377.2,394.2"/>
<path d="M178.50 410.20v-2.00M178.50 240.70v2.00M194.67 410.20v-1.00M194.67 240.70v1.00M204.13 410.20v-1.00M204.13 240.70v1.00M210.85 410.20v-1.00M210.85 240.70v1.00M216.05 410.20v-1.00M216.05 240.70v1.00M220.31 410.20v-1.00M220.31 240.70v1.00M223.90 410.20v-1.00M223.90 240.70v1.00M227.02 410.20v-1.00M227.02 240.70v1.00M229.77 410.20v-1.00M229.77 240.70v1.00M232.22 410.20v-2.00M232.22 240.70v2.00M248.40 410.20v-1.00M248.40 240.70v1.00M257.86 410.20v-1.00M257.86 240.70v1.00M264.57 410.20v-1.00M264.57 240.70v1.00M269.78 410.20v-1.00M269.78 240.70v1.00M274.03 410.20v-1.00M274.03 240.70v1.00M277.63 410.20v-1.00M277.63 240.70v1.00M280.74 410.20v-1.00M280.74 240.70v1.00M283.49 410.20v-1.00M283.49 240.70v1.00M285.95 410.20v-2.00M285.95 240.70v2.00M302.12 410.20v-1.00M302.12 240.70v1.00M311.58 410.20v-1.00M311.58 240.70v1.00M318.30 410.20v-1.00M318.30 240.70v1.00M323.50 410.20v-1.00M323.50 240.70v1.00M327.76 410.20v-1.00M327.76 240.70v1.00M331.35 410.20v-1.00M331.35 240.70v1.00M334.47 410.20v-1.00M334.47 240.70v1.00M337.22 410.20v-1.00M337.22 240.70v1.00M339.67 410.20v-2.00M339.67 240.70v2.00M355.85 410.20v-1.00M355.85 240.70v1.00M365.31 410.20v-1.00M365.31 240.70v1.00M372.02 410.20v-1.00M372.02 240.70v1.00M377.23 410.20v-1.00M377.23 240.70v1.00M381.48 410.20v-1.00M381.48 240.70v1.00M385.08 410.20v-1.00M385.08 240.70v1.00M388.19 410.20v-1.00M388.19 240.70v1.00M390.94 410.20v-1.00M390.94 240.70v1.00M178.50 240.70h2M393.40 240.70h-2M178.50 297.20h2M393.40 297.20h-2M178.50 353.70h2M393.40 353.70h-2M178.50 410.20h2M393.40 410.20h-2" stroke="#626262" stroke-width="0.6" fill="none"/>
<rect x="178.50" y="240.70" width="214.90" height="169.50" fill="none" stroke="#626262" stroke-width="0.75"/>
<text x="176.30" y="243.10" text-anchor="end" class="tk">0</text>
<text x="176.30" y="299.60" text-anchor="end" class="tk">−50</text>
<text x="176.30" y="356.10" text-anchor="end" class="tk">−100</text>
<text x="176.30" y="412.60" text-anchor="end" class="tk">−150</text>
<text x="178.50" y="420.95" text-anchor="middle" class="tk">10<tspan dy="-2.9" font-size="5.2">−1</tspan></text>
<text x="232.22" y="420.95" text-anchor="middle" class="tk">10<tspan dy="-2.9" font-size="5.2">0</tspan></text>
<text x="285.95" y="420.95" text-anchor="middle" class="tk">10<tspan dy="-2.9" font-size="5.2">1</tspan></text>
<text x="339.67" y="420.95" text-anchor="middle" class="tk">10<tspan dy="-2.9" font-size="5.2">2</tspan></text>
<text x="393.40" y="420.95" text-anchor="middle" class="tk">10<tspan dy="-2.9" font-size="5.2">3</tspan></text>
<text x="285.95" y="429.90" text-anchor="middle" class="lb">Frequency(Hz)</text>
<text transform="translate(159.20 325.45) rotate(-90)" text-anchor="middle" class="lb">PSD(dB)</text>
<text x="280.95" y="444.70" text-anchor="middle" class="cap">(<tspan font-weight="bold">c</tspan>)</text>
<rect x="321.60" y="245.60" width="66.90" height="20.50" fill="#fff" stroke="#6a6a6a" stroke-width="0.6"/>
<path d="M324.40 251.75h19" stroke="#0a70c0" stroke-width="0.8"/>
<path d="M324.40 260.67h19" stroke="#50c896" stroke-width="0.8"/>
<text x="345.30" y="254.55" class="lg">Zero-pole</text>
<text x="345.30" y="263.47" class="lg">New method</text>
</svg>
</body>
</html>
